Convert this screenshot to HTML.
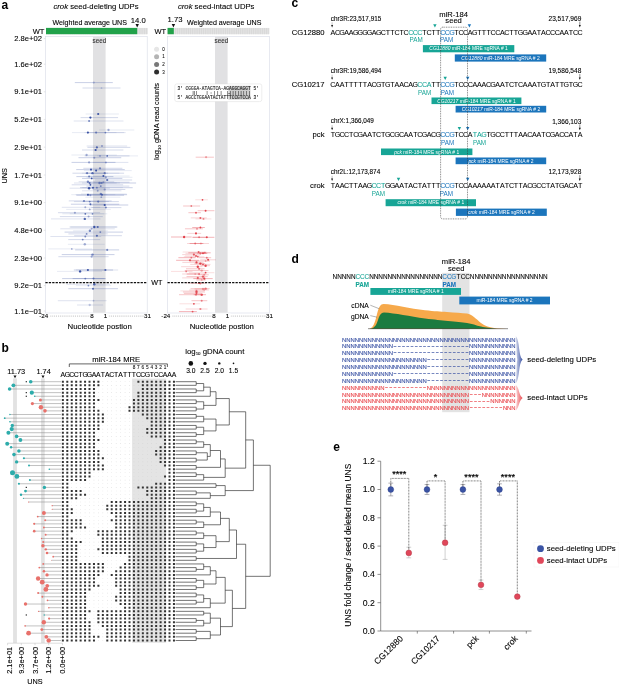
<!DOCTYPE html>
<html lang="en"><head><meta charset="utf-8"><title>Figure</title>
<style>
html,body{margin:0;padding:0;background:#fff;}
body{width:619px;height:685px;overflow:hidden;}
svg{display:block;font-family:"Liberation Sans",sans-serif;}
</style></head><body>
<svg width="619" height="685" viewBox="0 0 619 685">
<rect width="619" height="685" fill="#fff"/>
<g id="panel-a">
<text x="1.5" y="8.6" font-size="12" text-anchor="start" fill="#000" stroke="#000" stroke-width="0" font-weight="bold">a</text>
<text x="96" y="9" font-size="7.7" text-anchor="middle" fill="#000" stroke="#000" stroke-width="0.1" ><tspan font-style="italic">crok</tspan> seed-deleting UDPs</text>
<text x="216.2" y="9" font-size="7.7" text-anchor="middle" fill="#000" stroke="#000" stroke-width="0.1" ><tspan font-style="italic">crok</tspan> seed-intact UDPs</text>
<text x="52.5" y="24.5" font-size="7.1" text-anchor="start" fill="#000" stroke="#000" stroke-width="0.1" >Weighted average UNS</text>
<text x="187" y="24.5" font-size="7.1" text-anchor="start" fill="#000" stroke="#000" stroke-width="0.1" >Weighted average UNS</text>
<text x="138.2" y="22.6" font-size="7.7" text-anchor="middle" fill="#000" stroke="#000" stroke-width="0.1" >14.0</text>
<text x="175" y="22.2" font-size="7.7" text-anchor="middle" fill="#000" stroke="#000" stroke-width="0.1" >1.73</text>
<path d="M135.5,24H138.9L137.2,27.4Z" fill="#111"/>
<path d="M171.7,24H175.1L173.4,27.4Z" fill="#111"/>
<text x="44.4" y="34.2" font-size="7.5" text-anchor="end" fill="#000" stroke="#000" stroke-width="0.1" >WT</text>
<text x="166.2" y="34.2" font-size="7.5" text-anchor="end" fill="#000" stroke="#000" stroke-width="0.1" >WT</text>
<rect x="46" y="27.9" width="101.8" height="6.3" fill="#e9e9e9"/>
<line x1="46" y1="31.05" x2="147.8" y2="31.05" stroke="#d9d9d9" stroke-width="6.3" stroke-dasharray="1.3,0.55"/>
<rect x="46" y="27.9" width="91.2" height="6.3" fill="#22a24a"/>
<rect x="167.6" y="27.9" width="101.8" height="6.3" fill="#e9e9e9"/>
<line x1="167.6" y1="31.05" x2="269.4" y2="31.05" stroke="#d9d9d9" stroke-width="6.3" stroke-dasharray="1.3,0.55"/>
<rect x="167.6" y="27.9" width="6.2" height="6.3" fill="#22a24a"/>
<rect x="45.4" y="36.3" width="101.8" height="276.7" fill="#fff" stroke="#d8dbe6" stroke-width="0.6"/>
<rect x="93.0" y="36.6" width="12.6" height="276.1" fill="#e1e1e3"/>
<text x="99.4" y="42.7" font-size="6.3" text-anchor="middle" fill="#333" stroke="#333" stroke-width="0.1" >seed</text>
<rect x="167.5" y="36.3" width="101.8" height="276.7" fill="#fff" stroke="#d8dbe6" stroke-width="0.6"/>
<rect x="215.0" y="36.6" width="12.6" height="276.1" fill="#e1e1e3"/>
<text x="221.4" y="42.7" font-size="6.3" text-anchor="middle" fill="#333" stroke="#333" stroke-width="0.1" >seed</text>
<text x="41.9" y="41.25" font-size="7.6" text-anchor="end" fill="#000" stroke="#000" stroke-width="0.1" >2.8e+02</text>
<text x="41.9" y="66.85" font-size="7.6" text-anchor="end" fill="#000" stroke="#000" stroke-width="0.1" >1.6e+02</text>
<text x="41.9" y="94.45" font-size="7.6" text-anchor="end" fill="#000" stroke="#000" stroke-width="0.1" >9.1e+01</text>
<text x="41.9" y="122.05" font-size="7.6" text-anchor="end" fill="#000" stroke="#000" stroke-width="0.1" >5.2e+01</text>
<text x="41.9" y="149.85" font-size="7.6" text-anchor="end" fill="#000" stroke="#000" stroke-width="0.1" >2.9e+01</text>
<text x="41.9" y="177.65" font-size="7.6" text-anchor="end" fill="#000" stroke="#000" stroke-width="0.1" >1.7e+01</text>
<text x="41.9" y="205.25" font-size="7.6" text-anchor="end" fill="#000" stroke="#000" stroke-width="0.1" >9.1e+00</text>
<text x="41.9" y="232.95" font-size="7.6" text-anchor="end" fill="#000" stroke="#000" stroke-width="0.1" >4.8e+00</text>
<text x="41.9" y="260.65" font-size="7.6" text-anchor="end" fill="#000" stroke="#000" stroke-width="0.1" >2.3e+00</text>
<text x="41.9" y="288.25" font-size="7.6" text-anchor="end" fill="#000" stroke="#000" stroke-width="0.1" >9.2e−01</text>
<text x="41.9" y="313.65" font-size="7.6" text-anchor="end" fill="#000" stroke="#000" stroke-width="0.1" >1.1e−01</text>
<path d="M43.8,38.6h1.6M43.8,64.2h1.6M43.8,91.8h1.6M43.8,119.4h1.6M43.8,147.2h1.6M43.8,175h1.6M43.8,202.6h1.6M43.8,230.3h1.6M43.8,258h1.6M43.8,285.6h1.6M43.8,311h1.6" stroke="#ccc" stroke-width="0.5" fill="none"/>
<text transform="translate(6.9,175.8) rotate(-90)" font-size="7.3" text-anchor="middle" fill="#000" stroke="#000" stroke-width="0.1">UNS</text>
<line x1="50.4" y1="316.1" x2="144.4" y2="316.1" stroke="#a8a8a8" stroke-width="0.8" stroke-dasharray="0.9,1.0"/>
<rect x="89.6" y="313.4" width="19" height="5.2" fill="#fff"/>
<text x="48.2" y="318.2" font-size="6.2" text-anchor="end" fill="#000" stroke="#000" stroke-width="0.1" >-24</text>
<text x="92" y="318.2" font-size="6.2" text-anchor="middle" fill="#000" stroke="#000" stroke-width="0.1" >8</text>
<text x="105.4" y="318.2" font-size="6.2" text-anchor="middle" fill="#000" stroke="#000" stroke-width="0.1" >1</text>
<text x="144" y="318.2" font-size="6.2" text-anchor="start" fill="#000" stroke="#000" stroke-width="0.1" >31</text>
<text x="99.7" y="328.5" font-size="7.8" text-anchor="middle" fill="#000" stroke="#000" stroke-width="0.1" >Nucleotide postion</text>
<line x1="172.5" y1="316.1" x2="266.5" y2="316.1" stroke="#a8a8a8" stroke-width="0.8" stroke-dasharray="0.9,1.0"/>
<rect x="211.7" y="313.4" width="19" height="5.2" fill="#fff"/>
<text x="170.3" y="318.2" font-size="6.2" text-anchor="end" fill="#000" stroke="#000" stroke-width="0.1" >-24</text>
<text x="214.1" y="318.2" font-size="6.2" text-anchor="middle" fill="#000" stroke="#000" stroke-width="0.1" >8</text>
<text x="227.5" y="318.2" font-size="6.2" text-anchor="middle" fill="#000" stroke="#000" stroke-width="0.1" >1</text>
<text x="266.1" y="318.2" font-size="6.2" text-anchor="start" fill="#000" stroke="#000" stroke-width="0.1" >31</text>
<text x="221.8" y="328.5" font-size="7.8" text-anchor="middle" fill="#000" stroke="#000" stroke-width="0.1" >Nucleotide postion</text>
<g stroke="#3b53a4" stroke-width="0.55" fill="#3b53a4">
<line x1="85.64" y1="114" x2="118.92" y2="114" stroke-opacity="0.22"/>
<line x1="80.6" y1="117.6" x2="118.05" y2="117.6" stroke-opacity="0.4"/>
<line x1="73.69" y1="121" x2="123.47" y2="121" stroke-opacity="0.3"/>
<line x1="99.09" y1="130" x2="134.31" y2="130" stroke-opacity="0.22"/>
<line x1="84.45" y1="132.6" x2="124.02" y2="132.6" stroke-opacity="0.22"/>
<line x1="87.3" y1="132.6" x2="125.63" y2="132.6" stroke-opacity="0.3"/>
<line x1="71.96" y1="132.6" x2="116.39" y2="132.6" stroke-opacity="0.22"/>
<line x1="86.65" y1="146" x2="127.14" y2="146" stroke-opacity="0.3"/>
<line x1="87.39" y1="147.4" x2="130.35" y2="147.4" stroke-opacity="0.4"/>
<line x1="81.99" y1="150" x2="123.33" y2="150" stroke-opacity="0.4"/>
<line x1="71.44" y1="155" x2="116.88" y2="155" stroke-opacity="0.22"/>
<line x1="84.6" y1="155.9" x2="129.5" y2="155.9" stroke-opacity="0.4"/>
<line x1="97.13" y1="155.9" x2="138.02" y2="155.9" stroke-opacity="0.22"/>
<line x1="78.49" y1="157.7" x2="121.24" y2="157.7" stroke-opacity="0.5"/>
<line x1="71.55" y1="162.4" x2="115.48" y2="162.4" stroke-opacity="0.5"/>
<line x1="92.92" y1="162.4" x2="128.37" y2="162.4" stroke-opacity="0.3"/>
<line x1="83.31" y1="168.3" x2="122.39" y2="168.3" stroke-opacity="0.4"/>
<line x1="76.22" y1="169.6" x2="124.75" y2="169.6" stroke-opacity="0.5"/>
<line x1="83.93" y1="170.6" x2="131.74" y2="170.6" stroke-opacity="0.22"/>
<line x1="72.47" y1="173.2" x2="108.07" y2="173.2" stroke-opacity="0.4"/>
<line x1="81.83" y1="173.2" x2="119.3" y2="173.2" stroke-opacity="0.22"/>
<line x1="85.12" y1="173.2" x2="124.1" y2="173.2" stroke-opacity="0.4"/>
<line x1="76.36" y1="176.6" x2="113.4" y2="176.6" stroke-opacity="0.5"/>
<line x1="88.02" y1="176" x2="129.61" y2="176" stroke-opacity="0.22"/>
<line x1="86.51" y1="177.3" x2="132.43" y2="177.3" stroke-opacity="0.22"/>
<line x1="82.03" y1="178.4" x2="122.33" y2="178.4" stroke-opacity="0.5"/>
<line x1="95.07" y1="180" x2="132.14" y2="180" stroke-opacity="0.4"/>
<line x1="78.65" y1="181.7" x2="114.21" y2="181.7" stroke-opacity="0.3"/>
<line x1="73.98" y1="183" x2="116.59" y2="183" stroke-opacity="0.3"/>
<line x1="82.05" y1="183" x2="119.83" y2="183" stroke-opacity="0.3"/>
<line x1="88.22" y1="183" x2="136.1" y2="183" stroke-opacity="0.5"/>
<line x1="93.51" y1="182.2" x2="129.49" y2="182.2" stroke-opacity="0.4"/>
<line x1="71.68" y1="184.8" x2="123.15" y2="184.8" stroke-opacity="0.4"/>
<line x1="80.13" y1="187.7" x2="132.66" y2="187.7" stroke-opacity="0.5"/>
<line x1="69.56" y1="188.2" x2="109.82" y2="188.2" stroke-opacity="0.3"/>
<line x1="82.34" y1="187.7" x2="122.85" y2="187.7" stroke-opacity="0.22"/>
<line x1="86.47" y1="186.1" x2="129.4" y2="186.1" stroke-opacity="0.4"/>
<line x1="92.6" y1="189.5" x2="125.32" y2="189.5" stroke-opacity="0.4"/>
<line x1="81.99" y1="190.8" x2="121.44" y2="190.8" stroke-opacity="0.3"/>
<line x1="71.3" y1="194.7" x2="115.18" y2="194.7" stroke-opacity="0.22"/>
<line x1="76.38" y1="195.2" x2="124.08" y2="195.2" stroke-opacity="0.5"/>
<line x1="88.62" y1="194.7" x2="127.09" y2="194.7" stroke-opacity="0.5"/>
<line x1="85.32" y1="197.2" x2="120.42" y2="197.2" stroke-opacity="0.22"/>
<line x1="80.97" y1="193.9" x2="126.73" y2="193.9" stroke-opacity="0.22"/>
<line x1="75.66" y1="194.7" x2="107.35" y2="194.7" stroke-opacity="0.22"/>
<line x1="68.77" y1="200.9" x2="111.66" y2="200.9" stroke-opacity="0.4"/>
<line x1="73.95" y1="201.6" x2="108.97" y2="201.6" stroke-opacity="0.3"/>
<line x1="82.45" y1="201.6" x2="118.87" y2="201.6" stroke-opacity="0.4"/>
<line x1="70.89" y1="204.2" x2="119.24" y2="204.2" stroke-opacity="0.5"/>
<line x1="89.75" y1="205" x2="128.28" y2="205" stroke-opacity="0.5"/>
<line x1="61.77" y1="207.3" x2="100.29" y2="207.3" stroke-opacity="0.3"/>
<line x1="91.45" y1="207.6" x2="121.38" y2="207.6" stroke-opacity="0.4"/>
<line x1="66.21" y1="209.4" x2="110.77" y2="209.4" stroke-opacity="0.22"/>
<line x1="57.97" y1="212.7" x2="100.13" y2="212.7" stroke-opacity="0.4"/>
<line x1="69.78" y1="213.8" x2="103.99" y2="213.8" stroke-opacity="0.22"/>
<line x1="62.3" y1="213.8" x2="107.27" y2="213.8" stroke-opacity="0.22"/>
<line x1="59.89" y1="216.6" x2="102.78" y2="216.6" stroke-opacity="0.4"/>
<line x1="51" y1="218.9" x2="100.49" y2="218.9" stroke-opacity="0.3"/>
<line x1="69.52" y1="227" x2="116.76" y2="227" stroke-opacity="0.4"/>
<line x1="70.43" y1="227" x2="117.51" y2="227" stroke-opacity="0.3"/>
<line x1="60.35" y1="228.8" x2="114.79" y2="228.8" stroke-opacity="0.3"/>
<line x1="73.1" y1="230.8" x2="107.78" y2="230.8" stroke-opacity="0.22"/>
<line x1="64.55" y1="232.1" x2="122.94" y2="232.1" stroke-opacity="0.5"/>
<line x1="68.38" y1="233.9" x2="107.68" y2="233.9" stroke-opacity="0.4"/>
<line x1="74.17" y1="235.7" x2="121.89" y2="235.7" stroke-opacity="0.4"/>
<line x1="50.38" y1="236.5" x2="101.13" y2="236.5" stroke-opacity="0.3"/>
<line x1="68.25" y1="239.6" x2="100.22" y2="239.6" stroke-opacity="0.4"/>
<line x1="67.9" y1="244.3" x2="104.79" y2="244.3" stroke-opacity="0.22"/>
<line x1="48.29" y1="248.9" x2="92.25" y2="248.9" stroke-opacity="0.22"/>
<line x1="75.17" y1="249.9" x2="119.12" y2="249.9" stroke-opacity="0.5"/>
<line x1="61.72" y1="254.6" x2="114.5" y2="254.6" stroke-opacity="0.5"/>
<line x1="58.36" y1="256.7" x2="108.64" y2="256.7" stroke-opacity="0.4"/>
<line x1="73.82" y1="270" x2="113.04" y2="270" stroke-opacity="0.5"/>
<line x1="56.98" y1="271.4" x2="101.99" y2="271.4" stroke-opacity="0.22"/>
<line x1="76" y1="270" x2="118.12" y2="270" stroke-opacity="0.3"/>
<line x1="72.64" y1="278.6" x2="104.75" y2="278.6" stroke-opacity="0.5"/>
<line x1="62.14" y1="278.6" x2="105.84" y2="278.6" stroke-opacity="0.5"/>
<line x1="66.53" y1="284.3" x2="109.91" y2="284.3" stroke-opacity="0.3"/>
<line x1="75.89" y1="285.6" x2="111.19" y2="285.6" stroke-opacity="0.22"/>
<line x1="68.36" y1="288.7" x2="117.94" y2="288.7" stroke-opacity="0.5"/>
<line x1="57.82" y1="300.7" x2="106.62" y2="300.7" stroke-opacity="0.3"/>
<line x1="77.03" y1="305" x2="103.1" y2="305" stroke-opacity="0.3"/>
<line x1="74.8" y1="82.6" x2="112.8" y2="82.6" stroke-opacity="0.5"/>
<line x1="82.5" y1="88" x2="120.5" y2="88" stroke-opacity="0.4"/>
<circle cx="98.2" cy="114" r="1.08" stroke="none" fill-opacity="1"/>
<circle cx="90.4" cy="117.6" r="1.14" stroke="none" fill-opacity="1"/>
<circle cx="89.1" cy="121" r="1.04" stroke="none" fill-opacity="0.65"/>
<circle cx="108.5" cy="130" r="1.16" stroke="none" fill-opacity="0.45"/>
<circle cx="96.1" cy="132.6" r="1.06" stroke="none" fill-opacity="0.65"/>
<circle cx="105.4" cy="132.6" r="0.91" stroke="none" fill-opacity="0.65"/>
<circle cx="87.9" cy="132.6" r="1.07" stroke="none" fill-opacity="1"/>
<circle cx="102" cy="146" r="1.04" stroke="none" fill-opacity="0.45"/>
<circle cx="96.9" cy="147.4" r="1.09" stroke="none" fill-opacity="0.85"/>
<circle cx="95.6" cy="150" r="1.12" stroke="none" fill-opacity="1"/>
<circle cx="86.6" cy="155" r="1.16" stroke="none" fill-opacity="0.45"/>
<circle cx="100" cy="155.9" r="0.94" stroke="none" fill-opacity="0.45"/>
<circle cx="107.2" cy="155.9" r="0.86" stroke="none" fill-opacity="0.85"/>
<circle cx="94.3" cy="157.7" r="1.03" stroke="none" fill-opacity="0.45"/>
<circle cx="89.1" cy="162.4" r="1.12" stroke="none" fill-opacity="0.45"/>
<circle cx="105.9" cy="162.4" r="1.01" stroke="none" fill-opacity="0.45"/>
<circle cx="100" cy="168.3" r="1.09" stroke="none" fill-opacity="0.65"/>
<circle cx="91" cy="169.6" r="1.03" stroke="none" fill-opacity="1"/>
<circle cx="96.1" cy="170.6" r="1.03" stroke="none" fill-opacity="1"/>
<circle cx="87.1" cy="173.2" r="1.09" stroke="none" fill-opacity="0.65"/>
<circle cx="92.5" cy="173.2" r="1.17" stroke="none" fill-opacity="0.85"/>
<circle cx="104.7" cy="173.2" r="1.14" stroke="none" fill-opacity="0.65"/>
<circle cx="89.1" cy="176.6" r="1" stroke="none" fill-opacity="0.65"/>
<circle cx="103.4" cy="176" r="1" stroke="none" fill-opacity="1"/>
<circle cx="105.9" cy="177.3" r="1.08" stroke="none" fill-opacity="0.45"/>
<circle cx="91.7" cy="178.4" r="0.88" stroke="none" fill-opacity="1"/>
<circle cx="107.2" cy="180" r="1.12" stroke="none" fill-opacity="0.85"/>
<circle cx="87.9" cy="181.7" r="1.18" stroke="none" fill-opacity="0.65"/>
<circle cx="89.7" cy="183" r="0.9" stroke="none" fill-opacity="0.85"/>
<circle cx="99.5" cy="183" r="1.19" stroke="none" fill-opacity="0.65"/>
<circle cx="101.6" cy="183" r="1.11" stroke="none" fill-opacity="0.65"/>
<circle cx="103.4" cy="182.2" r="0.99" stroke="none" fill-opacity="0.45"/>
<circle cx="90.4" cy="184.8" r="0.91" stroke="none" fill-opacity="1"/>
<circle cx="96.9" cy="187.7" r="0.91" stroke="none" fill-opacity="0.65"/>
<circle cx="89.1" cy="188.2" r="1.2" stroke="none" fill-opacity="1"/>
<circle cx="93" cy="187.7" r="0.97" stroke="none" fill-opacity="1"/>
<circle cx="100.8" cy="186.1" r="0.97" stroke="none" fill-opacity="0.65"/>
<circle cx="104.7" cy="189.5" r="1.1" stroke="none" fill-opacity="0.45"/>
<circle cx="97.7" cy="190.8" r="0.97" stroke="none" fill-opacity="0.45"/>
<circle cx="87.9" cy="194.7" r="1" stroke="none" fill-opacity="1"/>
<circle cx="90.4" cy="195.2" r="0.98" stroke="none" fill-opacity="0.45"/>
<circle cx="102" cy="194.7" r="1.03" stroke="none" fill-opacity="0.85"/>
<circle cx="101.3" cy="197.2" r="0.89" stroke="none" fill-opacity="0.45"/>
<circle cx="100.8" cy="193.9" r="1.19" stroke="none" fill-opacity="0.65"/>
<circle cx="88.4" cy="194.7" r="0.88" stroke="none" fill-opacity="0.45"/>
<circle cx="84" cy="200.9" r="0.86" stroke="none" fill-opacity="0.85"/>
<circle cx="89.7" cy="201.6" r="0.94" stroke="none" fill-opacity="0.65"/>
<circle cx="98.2" cy="201.6" r="1.14" stroke="none" fill-opacity="0.65"/>
<circle cx="90.4" cy="204.2" r="0.99" stroke="none" fill-opacity="0.85"/>
<circle cx="104.7" cy="205" r="1.1" stroke="none" fill-opacity="1"/>
<circle cx="85.3" cy="207.3" r="0.95" stroke="none" fill-opacity="0.45"/>
<circle cx="105.9" cy="207.6" r="1" stroke="none" fill-opacity="0.65"/>
<circle cx="89.7" cy="209.4" r="0.94" stroke="none" fill-opacity="0.45"/>
<circle cx="74.9" cy="212.7" r="1.07" stroke="none" fill-opacity="0.45"/>
<circle cx="85.3" cy="213.8" r="0.88" stroke="none" fill-opacity="0.85"/>
<circle cx="92.5" cy="213.8" r="0.87" stroke="none" fill-opacity="0.65"/>
<circle cx="88.6" cy="216.6" r="1.01" stroke="none" fill-opacity="0.45"/>
<circle cx="84.8" cy="218.9" r="1.2" stroke="none" fill-opacity="0.85"/>
<circle cx="94.3" cy="227" r="1.17" stroke="none" fill-opacity="1"/>
<circle cx="97.7" cy="227" r="1.07" stroke="none" fill-opacity="0.85"/>
<circle cx="91.7" cy="228.8" r="1.03" stroke="none" fill-opacity="0.45"/>
<circle cx="89.9" cy="230.8" r="1.18" stroke="none" fill-opacity="0.65"/>
<circle cx="100.3" cy="232.1" r="0.94" stroke="none" fill-opacity="0.65"/>
<circle cx="86.6" cy="233.9" r="0.92" stroke="none" fill-opacity="0.65"/>
<circle cx="96.9" cy="235.7" r="1.07" stroke="none" fill-opacity="0.85"/>
<circle cx="85.3" cy="236.5" r="0.95" stroke="none" fill-opacity="0.65"/>
<circle cx="82.7" cy="239.6" r="0.94" stroke="none" fill-opacity="0.65"/>
<circle cx="84.8" cy="244.3" r="1.2" stroke="none" fill-opacity="0.45"/>
<circle cx="71.8" cy="248.9" r="0.86" stroke="none" fill-opacity="0.45"/>
<circle cx="107.2" cy="249.9" r="1.03" stroke="none" fill-opacity="0.65"/>
<circle cx="92.5" cy="254.6" r="1.18" stroke="none" fill-opacity="0.65"/>
<circle cx="91.7" cy="256.7" r="1.08" stroke="none" fill-opacity="0.45"/>
<circle cx="87.9" cy="270" r="1.08" stroke="none" fill-opacity="1"/>
<circle cx="80.1" cy="271.4" r="1.19" stroke="none" fill-opacity="1"/>
<circle cx="105.4" cy="270" r="1.09" stroke="none" fill-opacity="0.85"/>
<circle cx="85.3" cy="278.6" r="0.97" stroke="none" fill-opacity="0.65"/>
<circle cx="93.5" cy="278.6" r="0.99" stroke="none" fill-opacity="0.65"/>
<circle cx="94.3" cy="284.3" r="1.19" stroke="none" fill-opacity="0.85"/>
<circle cx="88.4" cy="285.6" r="0.85" stroke="none" fill-opacity="0.65"/>
<circle cx="93" cy="288.7" r="1" stroke="none" fill-opacity="0.85"/>
<circle cx="93.5" cy="300.7" r="0.88" stroke="none" fill-opacity="0.3"/>
<circle cx="89.7" cy="305" r="1.15" stroke="none" fill-opacity="0.3"/>
<circle cx="93.8" cy="82.6" r="1.06" stroke="none" fill-opacity="0.3"/>
<circle cx="101.5" cy="88" r="0.87" stroke="none" fill-opacity="0.3"/>
</g>
<g stroke="#e03b44" stroke-width="0.55" fill="#e03b44">
<line x1="195.28" y1="199.8" x2="207.85" y2="199.8" stroke-opacity="0.3"/>
<line x1="183.14" y1="206" x2="200.11" y2="206" stroke-opacity="0.55"/>
<line x1="197.67" y1="210.7" x2="214.43" y2="210.7" stroke-opacity="0.55"/>
<line x1="188.39" y1="212.7" x2="200.91" y2="212.7" stroke-opacity="0.55"/>
<line x1="190.82" y1="217.9" x2="206.77" y2="217.9" stroke-opacity="0.4"/>
<line x1="195.52" y1="218.9" x2="211.38" y2="218.9" stroke-opacity="0.3"/>
<line x1="192.23" y1="227.5" x2="204.85" y2="227.5" stroke-opacity="0.7"/>
<line x1="184.96" y1="228.8" x2="202.97" y2="228.8" stroke-opacity="0.55"/>
<line x1="187.35" y1="233.4" x2="201.16" y2="233.4" stroke-opacity="0.4"/>
<line x1="171" y1="237" x2="191.68" y2="237" stroke-opacity="0.7"/>
<line x1="192.63" y1="237.3" x2="214.4" y2="237.3" stroke-opacity="0.7"/>
<line x1="192.31" y1="237.3" x2="206.72" y2="237.3" stroke-opacity="0.4"/>
<line x1="189.67" y1="243.5" x2="203.38" y2="243.5" stroke-opacity="0.7"/>
<line x1="187.09" y1="243.5" x2="208.96" y2="243.5" stroke-opacity="0.4"/>
<line x1="182.68" y1="252" x2="206.36" y2="252" stroke-opacity="0.3"/>
<line x1="185.48" y1="253.3" x2="207.32" y2="253.3" stroke-opacity="0.4"/>
<line x1="196.98" y1="253.3" x2="207.21" y2="253.3" stroke-opacity="0.55"/>
<line x1="188.29" y1="252.8" x2="210.68" y2="252.8" stroke-opacity="0.7"/>
<line x1="182.2" y1="254.6" x2="201.04" y2="254.6" stroke-opacity="0.4"/>
<line x1="185.13" y1="255.9" x2="200.02" y2="255.9" stroke-opacity="0.3"/>
<line x1="183.82" y1="256.7" x2="204.31" y2="256.7" stroke-opacity="0.3"/>
<line x1="178.39" y1="257.7" x2="195.63" y2="257.7" stroke-opacity="0.7"/>
<line x1="198.77" y1="257.7" x2="211.17" y2="257.7" stroke-opacity="0.55"/>
<line x1="200.28" y1="259.8" x2="215.88" y2="259.8" stroke-opacity="0.4"/>
<line x1="176.12" y1="260.3" x2="198.88" y2="260.3" stroke-opacity="0.7"/>
<line x1="190.45" y1="261" x2="209.98" y2="261" stroke-opacity="0.55"/>
<line x1="182.3" y1="262.4" x2="203.58" y2="262.4" stroke-opacity="0.4"/>
<line x1="194.47" y1="263.6" x2="205.14" y2="263.6" stroke-opacity="0.55"/>
<line x1="190.18" y1="264.4" x2="210.46" y2="264.4" stroke-opacity="0.4"/>
<line x1="200.45" y1="265.7" x2="209.9" y2="265.7" stroke-opacity="0.55"/>
<line x1="181.13" y1="266.7" x2="202.3" y2="266.7" stroke-opacity="0.4"/>
<line x1="185.99" y1="268.8" x2="204.55" y2="268.8" stroke-opacity="0.55"/>
<line x1="171" y1="271.4" x2="192.53" y2="271.4" stroke-opacity="0.3"/>
<line x1="184.78" y1="270.6" x2="208.45" y2="270.6" stroke-opacity="0.55"/>
<line x1="188.86" y1="272.7" x2="214.28" y2="272.7" stroke-opacity="0.3"/>
<line x1="186.72" y1="274" x2="199.58" y2="274" stroke-opacity="0.7"/>
<line x1="182.17" y1="274" x2="205.03" y2="274" stroke-opacity="0.4"/>
<line x1="198.4" y1="274.8" x2="208.75" y2="274.8" stroke-opacity="0.55"/>
<line x1="186.57" y1="276.6" x2="207.66" y2="276.6" stroke-opacity="0.55"/>
<line x1="182.16" y1="277.9" x2="205.32" y2="277.9" stroke-opacity="0.4"/>
<line x1="193.33" y1="278.6" x2="212.68" y2="278.6" stroke-opacity="0.7"/>
<line x1="196.4" y1="279.9" x2="205.72" y2="279.9" stroke-opacity="0.7"/>
<line x1="185.92" y1="283" x2="205.13" y2="283" stroke-opacity="0.4"/>
<line x1="190.41" y1="283.5" x2="206.28" y2="283.5" stroke-opacity="0.3"/>
<line x1="190.52" y1="288.7" x2="209.61" y2="288.7" stroke-opacity="0.55"/>
<line x1="189.23" y1="290" x2="208.9" y2="290" stroke-opacity="0.4"/>
<line x1="182.94" y1="292" x2="205.01" y2="292" stroke-opacity="0.55"/>
<line x1="193.66" y1="294.7" x2="206.02" y2="294.7" stroke-opacity="0.7"/>
<line x1="179.01" y1="294.7" x2="202.95" y2="294.7" stroke-opacity="0.55"/>
<line x1="180.4" y1="290.9" x2="204.28" y2="290.9" stroke-opacity="0.3"/>
<line x1="194.63" y1="289" x2="207.26" y2="289" stroke-opacity="0.55"/>
<line x1="183.88" y1="293.4" x2="201.24" y2="293.4" stroke-opacity="0.55"/>
<line x1="191.47" y1="300.7" x2="207.28" y2="300.7" stroke-opacity="0.55"/>
<line x1="179.48" y1="303.8" x2="200.04" y2="303.8" stroke-opacity="0.3"/>
<line x1="185.66" y1="309" x2="207.55" y2="309" stroke-opacity="0.4"/>
<line x1="178.97" y1="311.6" x2="196.85" y2="311.6" stroke-opacity="0.7"/>
<line x1="195.69" y1="157.2" x2="213.86" y2="157.2" stroke-opacity="0.55"/>
<circle cx="202.5" cy="199.8" r="0.87" stroke="none" fill-opacity="0.95"/>
<circle cx="191.3" cy="206" r="0.91" stroke="none" fill-opacity="0.6"/>
<circle cx="205.6" cy="210.7" r="0.97" stroke="none" fill-opacity="0.95"/>
<circle cx="196" cy="212.7" r="0.94" stroke="none" fill-opacity="0.8"/>
<circle cx="200.4" cy="217.9" r="0.99" stroke="none" fill-opacity="0.8"/>
<circle cx="203.5" cy="218.9" r="0.96" stroke="none" fill-opacity="0.6"/>
<circle cx="200.4" cy="227.5" r="0.89" stroke="none" fill-opacity="0.95"/>
<circle cx="197" cy="228.8" r="0.88" stroke="none" fill-opacity="0.6"/>
<circle cx="196" cy="233.4" r="1.04" stroke="none" fill-opacity="0.95"/>
<circle cx="184.1" cy="237" r="1.17" stroke="none" fill-opacity="0.95"/>
<circle cx="206.8" cy="237.3" r="1" stroke="none" fill-opacity="0.95"/>
<circle cx="199.1" cy="237.3" r="0.94" stroke="none" fill-opacity="0.6"/>
<circle cx="195.2" cy="243.5" r="0.97" stroke="none" fill-opacity="0.6"/>
<circle cx="200.9" cy="243.5" r="0.96" stroke="none" fill-opacity="0.4"/>
<circle cx="198.6" cy="252" r="0.94" stroke="none" fill-opacity="0.8"/>
<circle cx="200.4" cy="253.3" r="1.16" stroke="none" fill-opacity="0.6"/>
<circle cx="203" cy="253.3" r="0.98" stroke="none" fill-opacity="0.95"/>
<circle cx="204.8" cy="252.8" r="0.98" stroke="none" fill-opacity="0.6"/>
<circle cx="193.9" cy="254.6" r="1.11" stroke="none" fill-opacity="0.8"/>
<circle cx="196" cy="255.9" r="0.95" stroke="none" fill-opacity="0.95"/>
<circle cx="197.8" cy="256.7" r="0.89" stroke="none" fill-opacity="0.8"/>
<circle cx="191.3" cy="257.7" r="0.88" stroke="none" fill-opacity="0.6"/>
<circle cx="206.8" cy="257.7" r="0.98" stroke="none" fill-opacity="0.6"/>
<circle cx="208.1" cy="259.8" r="1" stroke="none" fill-opacity="0.95"/>
<circle cx="190" cy="260.3" r="1.15" stroke="none" fill-opacity="0.8"/>
<circle cx="205.6" cy="261" r="0.89" stroke="none" fill-opacity="0.4"/>
<circle cx="196.5" cy="262.4" r="1.1" stroke="none" fill-opacity="0.95"/>
<circle cx="200.4" cy="263.6" r="1.19" stroke="none" fill-opacity="0.95"/>
<circle cx="203" cy="264.4" r="0.85" stroke="none" fill-opacity="0.95"/>
<circle cx="205.6" cy="265.7" r="1.18" stroke="none" fill-opacity="0.95"/>
<circle cx="197.8" cy="266.7" r="1.19" stroke="none" fill-opacity="0.95"/>
<circle cx="199.1" cy="268.8" r="1.12" stroke="none" fill-opacity="0.6"/>
<circle cx="186.2" cy="271.4" r="0.9" stroke="none" fill-opacity="0.6"/>
<circle cx="201.7" cy="270.6" r="1.18" stroke="none" fill-opacity="0.4"/>
<circle cx="205.6" cy="272.7" r="0.88" stroke="none" fill-opacity="0.95"/>
<circle cx="195.2" cy="274" r="0.85" stroke="none" fill-opacity="0.4"/>
<circle cx="199.1" cy="274" r="0.93" stroke="none" fill-opacity="0.6"/>
<circle cx="204.3" cy="274.8" r="1.08" stroke="none" fill-opacity="0.4"/>
<circle cx="203" cy="276.6" r="1.19" stroke="none" fill-opacity="0.8"/>
<circle cx="197.8" cy="277.9" r="1.03" stroke="none" fill-opacity="0.8"/>
<circle cx="204.3" cy="278.6" r="1.09" stroke="none" fill-opacity="0.95"/>
<circle cx="201.7" cy="279.9" r="0.88" stroke="none" fill-opacity="0.4"/>
<circle cx="199.1" cy="283" r="1.03" stroke="none" fill-opacity="0.8"/>
<circle cx="200.4" cy="283.5" r="0.99" stroke="none" fill-opacity="0.6"/>
<circle cx="205.6" cy="288.7" r="1.13" stroke="none" fill-opacity="0.6"/>
<circle cx="204.3" cy="290" r="0.85" stroke="none" fill-opacity="0.4"/>
<circle cx="196.5" cy="292" r="1.2" stroke="none" fill-opacity="0.8"/>
<circle cx="201.7" cy="294.7" r="1.19" stroke="none" fill-opacity="0.8"/>
<circle cx="196" cy="294.7" r="1.02" stroke="none" fill-opacity="0.6"/>
<circle cx="196.5" cy="290.9" r="1.04" stroke="none" fill-opacity="0.6"/>
<circle cx="203" cy="289" r="1.19" stroke="none" fill-opacity="0.4"/>
<circle cx="196.5" cy="293.4" r="0.87" stroke="none" fill-opacity="0.8"/>
<circle cx="201.7" cy="300.7" r="1.02" stroke="none" fill-opacity="0.6"/>
<circle cx="193.9" cy="303.8" r="0.88" stroke="none" fill-opacity="0.95"/>
<circle cx="200.4" cy="309" r="1.08" stroke="none" fill-opacity="0.6"/>
<circle cx="192.6" cy="311.6" r="0.93" stroke="none" fill-opacity="0.8"/>
<circle cx="206.1" cy="157.2" r="1.09" stroke="none" fill-opacity="0.4"/>
</g>
<line x1="45.4" y1="282.6" x2="147.2" y2="282.6" stroke="#111" stroke-width="1.3" stroke-dasharray="2.3,1.1"/>
<line x1="167.5" y1="282.6" x2="269.3" y2="282.6" stroke="#111" stroke-width="1.3" stroke-dasharray="2.3,1.1"/>
<text x="151.2" y="285.1" font-size="7.2" text-anchor="start" fill="#000" stroke="#000" stroke-width="0.1" >WT</text>
<circle cx="156.6" cy="49.2" r="2.5" fill="#e6e6e6"/>
<text x="162.3" y="50.75" font-size="4.5" text-anchor="start" fill="#000" stroke="#000" stroke-width="0.05" >0</text>
<circle cx="156.6" cy="56.7" r="2.5" fill="#b4b4b4"/>
<text x="162.3" y="58.25" font-size="4.5" text-anchor="start" fill="#000" stroke="#000" stroke-width="0.05" >1</text>
<circle cx="156.6" cy="64.5" r="2.5" fill="#787878"/>
<text x="162.3" y="66.05" font-size="4.5" text-anchor="start" fill="#000" stroke="#000" stroke-width="0.05" >2</text>
<circle cx="156.6" cy="72" r="2.5" fill="#2e2e2e"/>
<text x="162.3" y="73.55" font-size="4.5" text-anchor="start" fill="#000" stroke="#000" stroke-width="0.05" >3</text>
<text transform="translate(159.2,121.5) rotate(-90)" font-size="7.4" text-anchor="middle" fill="#000" stroke="#000" stroke-width="0.1">log<tspan font-size="4.4" dy="1.4">10</tspan><tspan dy="-1.4"> gDNA read counts</tspan></text>
<rect x="174.8" y="83.9" width="87" height="17.7" rx="2" fill="#fff" stroke="#dcdcdc" stroke-width="0.5"/>
<rect x="228.4" y="85.8" width="22" height="13.8" fill="#cdcdcd"/>
<text x="178.76 181.47 186.9 189.61 192.32 195.04 197.75 200.46 203.18 205.89 208.6 211.32 214.03 216.74 219.46 222.17 224.88 227.6 230.31 233.02 235.74 238.45 241.16 243.88 246.59 249.3 254.73 257.44" y="89.7" font-size="4.5" text-anchor="middle" fill="#222" stroke="#222" stroke-width="0.12" font-family="Liberation Mono, monospace">3'CGGGA-ATAGTCA-AGAGGCAGGT5'</text>
<text x="193 194.7 196.4 207 211.2 214.5 217.9 221.2 227.3 229 230.31 233.02 235.74 238.45 241.16 243.88 246.59 249.3" y="93.9" font-size="3.6" text-anchor="middle" fill="#222" stroke="#222" stroke-width="0.15" font-family="Liberation Mono, monospace">||||:||||-||||||||</text>
<text x="178.76 181.47 186.9 189.61 192.32 195.04 197.75 200.46 203.18 205.89 208.6 211.32 214.03 216.74 219.46 222.17 224.88 227.6 230.31 233.02 235.74 238.45 241.16 243.88 246.59 249.3 254.73 257.44" y="98.5" font-size="4.5" text-anchor="middle" fill="#222" stroke="#222" stroke-width="0.12" font-family="Liberation Mono, monospace">5'AGCCTGGAATACTATTTCCGTCCA3'</text>
</g>
<g id="panel-b">
<text x="1.5" y="351.8" font-size="12" text-anchor="start" fill="#000" stroke="#000" stroke-width="0" font-weight="bold">b</text>
<text x="116.2" y="361.8" font-size="7.65" text-anchor="middle" fill="#000" stroke="#000" stroke-width="0.1" >miR-184 MRE</text>
<path d="M69.3,367V363.9H167.4V367" fill="none" stroke="#222" stroke-width="0.7"/>
<text x="133.95" y="368.8" font-size="4.7" text-anchor="middle" fill="#222" stroke="#222" stroke-width="0.1" >8</text>
<text x="138.4" y="368.8" font-size="4.7" text-anchor="middle" fill="#222" stroke="#222" stroke-width="0.1" >7</text>
<text x="142.84" y="368.8" font-size="4.7" text-anchor="middle" fill="#222" stroke="#222" stroke-width="0.1" >6</text>
<text x="147.29" y="368.8" font-size="4.7" text-anchor="middle" fill="#222" stroke="#222" stroke-width="0.1" >5</text>
<text x="151.73" y="368.8" font-size="4.7" text-anchor="middle" fill="#222" stroke="#222" stroke-width="0.1" >4</text>
<text x="156.17" y="368.8" font-size="4.7" text-anchor="middle" fill="#222" stroke="#222" stroke-width="0.1" >3</text>
<text x="160.62" y="368.8" font-size="4.7" text-anchor="middle" fill="#222" stroke="#222" stroke-width="0.1" >2</text>
<text x="165.06" y="368.8" font-size="4.7" text-anchor="middle" fill="#222" stroke="#222" stroke-width="0.1" >1</text>
<text x="62.85 67.29 71.74 76.18 80.63 85.07 89.51 93.96 98.4 102.85 107.29 111.73 116.18 120.62 125.07 129.51 133.95 138.4 142.84 147.29 151.73 156.17 160.62 165.06 169.51 173.95" y="376.6" font-size="6.85" text-anchor="middle" fill="#000" stroke="#000" stroke-width="0.1">AGCCTGGAATACTATTTCCGTCCAAA</text>
<text x="214.8" y="354" font-size="7.8" text-anchor="middle" fill="#000" stroke="#000" stroke-width="0.1">log<tspan font-size="4.4" dy="1.4">10</tspan><tspan dy="-1.4"> gDNA count</tspan></text>
<circle cx="190.8" cy="363.4" r="2.3" fill="#111"/>
<text x="190.8" y="372.7" font-size="6.7" text-anchor="middle" fill="#000" stroke="#000" stroke-width="0.1" >3.0</text>
<circle cx="205" cy="363.4" r="1.7" fill="#111"/>
<text x="205" y="372.7" font-size="6.7" text-anchor="middle" fill="#000" stroke="#000" stroke-width="0.1" >2.5</text>
<circle cx="219.3" cy="363.4" r="1.2" fill="#111"/>
<text x="219.3" y="372.7" font-size="6.7" text-anchor="middle" fill="#000" stroke="#000" stroke-width="0.1" >2.0</text>
<circle cx="233.5" cy="363.4" r="0.8" fill="#111"/>
<text x="233.5" y="372.7" font-size="6.7" text-anchor="middle" fill="#000" stroke="#000" stroke-width="0.1" >1.5</text>
<rect x="13.1" y="378.4" width="3.8" height="264.6" fill="#e2e2e2"/>
<rect x="41.1" y="378.4" width="3.6" height="264.6" fill="#e2e2e2"/>
<rect x="132.1" y="378.6" width="34.1" height="264.2" fill="#e4e4e4"/>
<text x="16.2" y="373.8" font-size="7.4" text-anchor="middle" fill="#000" stroke="#000" stroke-width="0.1" >11.73</text>
<text x="43.6" y="373.8" font-size="7.4" text-anchor="middle" fill="#000" stroke="#000" stroke-width="0.1" >1.74</text>
<path d="M13.5,375.4H16.5L15,378.2Z" fill="#111"/>
<path d="M41.5,375.4H44.5L43,378.2Z" fill="#111"/>
<path d="M30.7,381.7H61M13.4,385.34H61M9.6,388.99H61M31.8,392.63H61M34.7,396.28H61M40.4,399.93H61M32.4,403.57H61M40.9,407.21H61M45,410.86H61M9.9,414.5H61M4.7,418.15H61M9.9,421.79H61M12.3,425.44H61M11.7,429.08H61M8.4,432.73H61M16.6,436.38H61M20.4,440.02H61M7.2,443.66H61M11.1,447.31H61M18.9,450.95H61M14,454.6H61M23.9,458.25H61M16.6,461.89H61M29,465.53H61M49.3,469.18H61M12.5,472.82H61M16.9,476.47H61M29.9,480.12H61M18.9,483.76H61M44.4,487.4H61M25.5,491.05H61M21,494.69H61M23.4,498.34H61M28.6,501.99H61M52.2,505.63H61M52.2,509.27H61M43.9,512.92H61M37.7,516.57H61M45.2,520.21H61M34.2,523.86H61M43.9,527.5H61M34.2,531.14H61M45.6,534.79H61M41.5,538.43H61M43.2,542.08H61M42.9,545.73H61M45.8,549.37H61M47,553.01H61M53.2,556.66H61M51.4,560.3H61M43.2,563.95H61M39.3,567.6H61M43.9,571.24H61M47,574.88H61M38.1,578.53H61M42.2,582.17H61M47.2,585.82H61M45.9,589.47H61M38.1,593.11H61M42.3,596.75H61M47.5,600.4H61M25.5,604.04H61M48.8,607.69H61M38.6,611.34H61M44.2,614.98H61M49.1,618.62H61M43.8,622.27H61M25.1,625.91H61M41.8,629.56H61M28.6,633.2H61M46.3,636.85H61M48.7,640.5H61" stroke="#858585" stroke-width="0.5" fill="none"/>
<circle cx="30.7" cy="381.7" r="1.8" fill="#2dacab"/>
<circle cx="13.4" cy="385.34" r="1.9" fill="#2dacab"/>
<circle cx="9.6" cy="388.99" r="1.8" fill="#2dacab"/>
<circle cx="31.8" cy="392.63" r="2.1" fill="#2dacab"/>
<circle cx="34.7" cy="396.28" r="0.8" fill="#2dacab"/>
<circle cx="40.4" cy="399.93" r="1.5" fill="#e8716b"/>
<circle cx="32.4" cy="403.57" r="1.6" fill="#e8716b"/>
<circle cx="40.9" cy="407.21" r="2.2" fill="#e8716b"/>
<circle cx="45" cy="410.86" r="1.8" fill="#e8716b"/>
<circle cx="9.9" cy="414.5" r="0.7" fill="#2dacab"/>
<circle cx="4.7" cy="418.15" r="0.9" fill="#2dacab"/>
<circle cx="9.9" cy="421.79" r="0.8" fill="#2dacab"/>
<circle cx="12.3" cy="425.44" r="1.7" fill="#2dacab"/>
<circle cx="11.7" cy="429.08" r="2.1" fill="#2dacab"/>
<circle cx="8.4" cy="432.73" r="2.0" fill="#2dacab"/>
<circle cx="16.6" cy="436.38" r="1.8" fill="#2dacab"/>
<circle cx="20.4" cy="440.02" r="1.9" fill="#2dacab"/>
<circle cx="7.2" cy="443.66" r="2.0" fill="#2dacab"/>
<circle cx="11.1" cy="447.31" r="1.2" fill="#2dacab"/>
<circle cx="18.9" cy="450.95" r="1.8" fill="#2dacab"/>
<circle cx="14" cy="454.6" r="1.8" fill="#2dacab"/>
<circle cx="23.9" cy="458.25" r="1.1" fill="#2dacab"/>
<circle cx="16.6" cy="461.89" r="1.7" fill="#2dacab"/>
<circle cx="29" cy="465.53" r="1.0" fill="#2dacab"/>
<circle cx="49.3" cy="469.18" r="0.8" fill="#2dacab"/>
<circle cx="12.5" cy="472.82" r="2.5" fill="#2dacab"/>
<circle cx="16.9" cy="476.47" r="2.4" fill="#2dacab"/>
<circle cx="29.9" cy="480.12" r="1.0" fill="#2dacab"/>
<circle cx="18.9" cy="483.76" r="1.1" fill="#2dacab"/>
<circle cx="44.4" cy="487.4" r="1.7" fill="#2dacab"/>
<circle cx="25.5" cy="491.05" r="1.4" fill="#2dacab"/>
<circle cx="21" cy="494.69" r="1.2" fill="#2dacab"/>
<circle cx="23.4" cy="498.34" r="0.6" fill="#2dacab"/>
<circle cx="28.6" cy="501.99" r="0.6" fill="#e8716b"/>
<circle cx="52.2" cy="505.63" r="0.7" fill="#e8716b"/>
<circle cx="52.2" cy="509.27" r="0.6" fill="#e8716b"/>
<circle cx="43.9" cy="512.92" r="2.0" fill="#e8716b"/>
<circle cx="37.7" cy="516.57" r="0.9" fill="#e8716b"/>
<circle cx="45.2" cy="520.21" r="1.0" fill="#e8716b"/>
<circle cx="34.2" cy="523.86" r="1.1" fill="#e8716b"/>
<circle cx="43.9" cy="527.5" r="0.9" fill="#e8716b"/>
<circle cx="34.2" cy="531.14" r="1.3" fill="#e8716b"/>
<circle cx="45.6" cy="534.79" r="1.0" fill="#e8716b"/>
<circle cx="41.5" cy="538.43" r="0.7" fill="#e8716b"/>
<circle cx="43.2" cy="542.08" r="1.0" fill="#e8716b"/>
<circle cx="42.9" cy="545.73" r="1.7" fill="#e8716b"/>
<circle cx="45.8" cy="549.37" r="1.2" fill="#e8716b"/>
<circle cx="47" cy="553.01" r="1.3" fill="#e8716b"/>
<circle cx="53.2" cy="556.66" r="0.9" fill="#e8716b"/>
<circle cx="51.4" cy="560.3" r="0.4" fill="#e8716b"/>
<circle cx="43.2" cy="563.95" r="0.9" fill="#e8716b"/>
<circle cx="39.3" cy="567.6" r="0.9" fill="#e8716b"/>
<circle cx="43.9" cy="571.24" r="1.3" fill="#e8716b"/>
<circle cx="47" cy="574.88" r="1.7" fill="#e8716b"/>
<circle cx="38.1" cy="578.53" r="2.2" fill="#e8716b"/>
<circle cx="42.2" cy="582.17" r="2.4" fill="#e8716b"/>
<circle cx="47.2" cy="585.82" r="1.9" fill="#e8716b"/>
<circle cx="45.9" cy="589.47" r="2.4" fill="#e8716b"/>
<circle cx="38.1" cy="593.11" r="1.0" fill="#e8716b"/>
<circle cx="42.3" cy="596.75" r="0.9" fill="#e8716b"/>
<circle cx="47.5" cy="600.4" r="0.8" fill="#e8716b"/>
<circle cx="25.5" cy="604.04" r="1.7" fill="#e8716b"/>
<circle cx="48.8" cy="607.69" r="0.7" fill="#e8716b"/>
<circle cx="38.6" cy="611.34" r="0.7" fill="#e8716b"/>
<circle cx="44.2" cy="614.98" r="0.7" fill="#2dacab"/>
<circle cx="49.1" cy="618.62" r="1.1" fill="#e8716b"/>
<circle cx="43.8" cy="622.27" r="2.2" fill="#e8716b"/>
<circle cx="25.1" cy="625.91" r="0.8" fill="#e8716b"/>
<circle cx="41.8" cy="629.56" r="1.4" fill="#e8716b"/>
<circle cx="28.6" cy="633.2" r="2.4" fill="#e8716b"/>
<circle cx="46.3" cy="636.85" r="1.9" fill="#e8716b"/>
<circle cx="48.7" cy="640.5" r="2.2" fill="#e8716b"/>
<rect x="25.7" y="381.1" width="1.2" height="1.2" fill="#222"/>
<rect x="25.7" y="392.03" width="1.2" height="1.2" fill="#222"/>
<rect x="25.7" y="395.68" width="1.2" height="1.2" fill="#222"/>
<rect x="25.7" y="486.8" width="1.2" height="1.2" fill="#222"/>
<rect x="25.7" y="614.38" width="1.2" height="1.2" fill="#222"/>
<path d="M102.55,381.4h0.6v0.6h-0.6zM106.99,381.4h0.6v0.6h-0.6zM111.43,381.4h0.6v0.6h-0.6zM115.88,381.4h0.6v0.6h-0.6zM120.32,381.4h0.6v0.6h-0.6zM124.77,381.4h0.6v0.6h-0.6zM129.21,381.4h0.6v0.6h-0.6zM133.65,381.4h0.6v0.6h-0.6zM102.55,385.04h0.6v0.6h-0.6zM106.99,385.04h0.6v0.6h-0.6zM111.43,385.04h0.6v0.6h-0.6zM115.88,385.04h0.6v0.6h-0.6zM120.32,385.04h0.6v0.6h-0.6zM124.77,385.04h0.6v0.6h-0.6zM129.21,385.04h0.6v0.6h-0.6zM133.65,385.04h0.6v0.6h-0.6zM138.1,385.04h0.6v0.6h-0.6zM98.1,388.69h0.6v0.6h-0.6zM102.55,388.69h0.6v0.6h-0.6zM106.99,388.69h0.6v0.6h-0.6zM111.43,388.69h0.6v0.6h-0.6zM115.88,388.69h0.6v0.6h-0.6zM120.32,388.69h0.6v0.6h-0.6zM124.77,388.69h0.6v0.6h-0.6zM129.21,388.69h0.6v0.6h-0.6zM133.65,388.69h0.6v0.6h-0.6zM138.1,388.69h0.6v0.6h-0.6zM98.1,392.33h0.6v0.6h-0.6zM102.55,392.33h0.6v0.6h-0.6zM106.99,392.33h0.6v0.6h-0.6zM111.43,392.33h0.6v0.6h-0.6zM115.88,392.33h0.6v0.6h-0.6zM120.32,392.33h0.6v0.6h-0.6zM124.77,392.33h0.6v0.6h-0.6zM129.21,392.33h0.6v0.6h-0.6zM133.65,392.33h0.6v0.6h-0.6zM98.1,395.98h0.6v0.6h-0.6zM102.55,395.98h0.6v0.6h-0.6zM106.99,395.98h0.6v0.6h-0.6zM111.43,395.98h0.6v0.6h-0.6zM115.88,395.98h0.6v0.6h-0.6zM120.32,395.98h0.6v0.6h-0.6zM124.77,395.98h0.6v0.6h-0.6zM129.21,395.98h0.6v0.6h-0.6zM133.65,395.98h0.6v0.6h-0.6zM102.55,399.62h0.6v0.6h-0.6zM106.99,399.62h0.6v0.6h-0.6zM111.43,399.62h0.6v0.6h-0.6zM115.88,399.62h0.6v0.6h-0.6zM120.32,399.62h0.6v0.6h-0.6zM124.77,399.62h0.6v0.6h-0.6zM129.21,399.62h0.6v0.6h-0.6zM98.1,403.27h0.6v0.6h-0.6zM102.55,403.27h0.6v0.6h-0.6zM106.99,403.27h0.6v0.6h-0.6zM111.43,403.27h0.6v0.6h-0.6zM115.88,403.27h0.6v0.6h-0.6zM120.32,403.27h0.6v0.6h-0.6zM124.77,403.27h0.6v0.6h-0.6zM129.21,403.27h0.6v0.6h-0.6zM98.1,406.91h0.6v0.6h-0.6zM102.55,406.91h0.6v0.6h-0.6zM106.99,406.91h0.6v0.6h-0.6zM111.43,406.91h0.6v0.6h-0.6zM115.88,406.91h0.6v0.6h-0.6zM120.32,406.91h0.6v0.6h-0.6zM124.77,406.91h0.6v0.6h-0.6zM102.55,410.56h0.6v0.6h-0.6zM106.99,410.56h0.6v0.6h-0.6zM111.43,410.56h0.6v0.6h-0.6zM115.88,410.56h0.6v0.6h-0.6zM120.32,410.56h0.6v0.6h-0.6zM124.77,410.56h0.6v0.6h-0.6zM106.99,414.2h0.6v0.6h-0.6zM111.43,414.2h0.6v0.6h-0.6zM115.88,414.2h0.6v0.6h-0.6zM120.32,414.2h0.6v0.6h-0.6zM124.77,414.2h0.6v0.6h-0.6zM129.21,414.2h0.6v0.6h-0.6zM133.65,414.2h0.6v0.6h-0.6zM138.1,414.2h0.6v0.6h-0.6zM106.99,417.85h0.6v0.6h-0.6zM111.43,417.85h0.6v0.6h-0.6zM115.88,417.85h0.6v0.6h-0.6zM120.32,417.85h0.6v0.6h-0.6zM124.77,417.85h0.6v0.6h-0.6zM129.21,417.85h0.6v0.6h-0.6zM133.65,417.85h0.6v0.6h-0.6zM138.1,417.85h0.6v0.6h-0.6zM142.54,417.85h0.6v0.6h-0.6zM106.99,421.49h0.6v0.6h-0.6zM111.43,421.49h0.6v0.6h-0.6zM115.88,421.49h0.6v0.6h-0.6zM120.32,421.49h0.6v0.6h-0.6zM124.77,421.49h0.6v0.6h-0.6zM129.21,421.49h0.6v0.6h-0.6zM133.65,421.49h0.6v0.6h-0.6zM138.1,421.49h0.6v0.6h-0.6zM142.54,421.49h0.6v0.6h-0.6zM146.99,421.49h0.6v0.6h-0.6zM102.55,425.14h0.6v0.6h-0.6zM106.99,425.14h0.6v0.6h-0.6zM111.43,425.14h0.6v0.6h-0.6zM115.88,425.14h0.6v0.6h-0.6zM120.32,425.14h0.6v0.6h-0.6zM124.77,425.14h0.6v0.6h-0.6zM129.21,425.14h0.6v0.6h-0.6zM133.65,425.14h0.6v0.6h-0.6zM138.1,425.14h0.6v0.6h-0.6zM142.54,425.14h0.6v0.6h-0.6zM146.99,425.14h0.6v0.6h-0.6zM102.55,428.78h0.6v0.6h-0.6zM106.99,428.78h0.6v0.6h-0.6zM111.43,428.78h0.6v0.6h-0.6zM115.88,428.78h0.6v0.6h-0.6zM120.32,428.78h0.6v0.6h-0.6zM124.77,428.78h0.6v0.6h-0.6zM129.21,428.78h0.6v0.6h-0.6zM133.65,428.78h0.6v0.6h-0.6zM138.1,428.78h0.6v0.6h-0.6zM142.54,428.78h0.6v0.6h-0.6zM98.1,432.43h0.6v0.6h-0.6zM102.55,432.43h0.6v0.6h-0.6zM106.99,432.43h0.6v0.6h-0.6zM111.43,432.43h0.6v0.6h-0.6zM115.88,432.43h0.6v0.6h-0.6zM120.32,432.43h0.6v0.6h-0.6zM124.77,432.43h0.6v0.6h-0.6zM129.21,432.43h0.6v0.6h-0.6zM133.65,432.43h0.6v0.6h-0.6zM138.1,432.43h0.6v0.6h-0.6zM142.54,432.43h0.6v0.6h-0.6zM98.1,436.07h0.6v0.6h-0.6zM102.55,436.07h0.6v0.6h-0.6zM106.99,436.07h0.6v0.6h-0.6zM111.43,436.07h0.6v0.6h-0.6zM115.88,436.07h0.6v0.6h-0.6zM120.32,436.07h0.6v0.6h-0.6zM124.77,436.07h0.6v0.6h-0.6zM129.21,436.07h0.6v0.6h-0.6zM133.65,436.07h0.6v0.6h-0.6zM138.1,436.07h0.6v0.6h-0.6zM142.54,436.07h0.6v0.6h-0.6zM146.99,436.07h0.6v0.6h-0.6zM102.55,439.72h0.6v0.6h-0.6zM106.99,439.72h0.6v0.6h-0.6zM111.43,439.72h0.6v0.6h-0.6zM115.88,439.72h0.6v0.6h-0.6zM120.32,439.72h0.6v0.6h-0.6zM124.77,439.72h0.6v0.6h-0.6zM129.21,439.72h0.6v0.6h-0.6zM133.65,439.72h0.6v0.6h-0.6zM138.1,439.72h0.6v0.6h-0.6zM142.54,439.72h0.6v0.6h-0.6zM146.99,439.72h0.6v0.6h-0.6zM151.43,439.72h0.6v0.6h-0.6zM155.87,439.72h0.6v0.6h-0.6zM160.32,439.72h0.6v0.6h-0.6zM98.1,443.36h0.6v0.6h-0.6zM102.55,443.36h0.6v0.6h-0.6zM106.99,443.36h0.6v0.6h-0.6zM111.43,443.36h0.6v0.6h-0.6zM115.88,443.36h0.6v0.6h-0.6zM120.32,443.36h0.6v0.6h-0.6zM124.77,443.36h0.6v0.6h-0.6zM129.21,443.36h0.6v0.6h-0.6zM133.65,443.36h0.6v0.6h-0.6zM138.1,443.36h0.6v0.6h-0.6zM142.54,443.36h0.6v0.6h-0.6zM146.99,443.36h0.6v0.6h-0.6zM151.43,443.36h0.6v0.6h-0.6zM155.87,443.36h0.6v0.6h-0.6zM160.32,443.36h0.6v0.6h-0.6zM98.1,447.01h0.6v0.6h-0.6zM102.55,447.01h0.6v0.6h-0.6zM106.99,447.01h0.6v0.6h-0.6zM111.43,447.01h0.6v0.6h-0.6zM115.88,447.01h0.6v0.6h-0.6zM120.32,447.01h0.6v0.6h-0.6zM124.77,447.01h0.6v0.6h-0.6zM129.21,447.01h0.6v0.6h-0.6zM133.65,447.01h0.6v0.6h-0.6zM138.1,447.01h0.6v0.6h-0.6zM142.54,447.01h0.6v0.6h-0.6zM146.99,447.01h0.6v0.6h-0.6zM151.43,447.01h0.6v0.6h-0.6zM155.87,447.01h0.6v0.6h-0.6zM102.55,450.65h0.6v0.6h-0.6zM106.99,450.65h0.6v0.6h-0.6zM111.43,450.65h0.6v0.6h-0.6zM115.88,450.65h0.6v0.6h-0.6zM120.32,450.65h0.6v0.6h-0.6zM124.77,450.65h0.6v0.6h-0.6zM129.21,450.65h0.6v0.6h-0.6zM133.65,450.65h0.6v0.6h-0.6zM138.1,450.65h0.6v0.6h-0.6zM142.54,450.65h0.6v0.6h-0.6zM146.99,450.65h0.6v0.6h-0.6zM151.43,450.65h0.6v0.6h-0.6zM102.55,454.3h0.6v0.6h-0.6zM106.99,454.3h0.6v0.6h-0.6zM111.43,454.3h0.6v0.6h-0.6zM115.88,454.3h0.6v0.6h-0.6zM120.32,454.3h0.6v0.6h-0.6zM124.77,454.3h0.6v0.6h-0.6zM129.21,454.3h0.6v0.6h-0.6zM133.65,454.3h0.6v0.6h-0.6zM138.1,454.3h0.6v0.6h-0.6zM142.54,454.3h0.6v0.6h-0.6zM146.99,454.3h0.6v0.6h-0.6zM151.43,454.3h0.6v0.6h-0.6zM106.99,457.94h0.6v0.6h-0.6zM111.43,457.94h0.6v0.6h-0.6zM115.88,457.94h0.6v0.6h-0.6zM120.32,457.94h0.6v0.6h-0.6zM124.77,457.94h0.6v0.6h-0.6zM129.21,457.94h0.6v0.6h-0.6zM133.65,457.94h0.6v0.6h-0.6zM138.1,457.94h0.6v0.6h-0.6zM142.54,457.94h0.6v0.6h-0.6zM146.99,457.94h0.6v0.6h-0.6zM151.43,457.94h0.6v0.6h-0.6zM155.87,457.94h0.6v0.6h-0.6zM102.55,461.59h0.6v0.6h-0.6zM106.99,461.59h0.6v0.6h-0.6zM111.43,461.59h0.6v0.6h-0.6zM115.88,461.59h0.6v0.6h-0.6zM120.32,461.59h0.6v0.6h-0.6zM124.77,461.59h0.6v0.6h-0.6zM129.21,461.59h0.6v0.6h-0.6zM133.65,461.59h0.6v0.6h-0.6zM138.1,461.59h0.6v0.6h-0.6zM142.54,461.59h0.6v0.6h-0.6zM146.99,461.59h0.6v0.6h-0.6zM151.43,461.59h0.6v0.6h-0.6zM155.87,461.59h0.6v0.6h-0.6zM106.99,465.23h0.6v0.6h-0.6zM111.43,465.23h0.6v0.6h-0.6zM115.88,465.23h0.6v0.6h-0.6zM120.32,465.23h0.6v0.6h-0.6zM124.77,465.23h0.6v0.6h-0.6zM129.21,465.23h0.6v0.6h-0.6zM133.65,465.23h0.6v0.6h-0.6zM138.1,465.23h0.6v0.6h-0.6zM142.54,465.23h0.6v0.6h-0.6zM146.99,465.23h0.6v0.6h-0.6zM151.43,465.23h0.6v0.6h-0.6zM155.87,465.23h0.6v0.6h-0.6zM160.32,465.23h0.6v0.6h-0.6zM106.99,468.88h0.6v0.6h-0.6zM111.43,468.88h0.6v0.6h-0.6zM115.88,468.88h0.6v0.6h-0.6zM120.32,468.88h0.6v0.6h-0.6zM124.77,468.88h0.6v0.6h-0.6zM129.21,468.88h0.6v0.6h-0.6zM133.65,468.88h0.6v0.6h-0.6zM138.1,468.88h0.6v0.6h-0.6zM142.54,468.88h0.6v0.6h-0.6zM146.99,468.88h0.6v0.6h-0.6zM151.43,468.88h0.6v0.6h-0.6zM155.87,468.88h0.6v0.6h-0.6zM160.32,468.88h0.6v0.6h-0.6zM164.76,468.88h0.6v0.6h-0.6zM93.66,472.52h0.6v0.6h-0.6zM98.1,472.52h0.6v0.6h-0.6zM102.55,472.52h0.6v0.6h-0.6zM106.99,472.52h0.6v0.6h-0.6zM111.43,472.52h0.6v0.6h-0.6zM115.88,472.52h0.6v0.6h-0.6zM120.32,472.52h0.6v0.6h-0.6zM124.77,472.52h0.6v0.6h-0.6zM129.21,472.52h0.6v0.6h-0.6zM133.65,472.52h0.6v0.6h-0.6zM138.1,472.52h0.6v0.6h-0.6zM142.54,472.52h0.6v0.6h-0.6zM146.99,472.52h0.6v0.6h-0.6zM151.43,472.52h0.6v0.6h-0.6zM155.87,472.52h0.6v0.6h-0.6zM160.32,472.52h0.6v0.6h-0.6zM164.76,472.52h0.6v0.6h-0.6zM93.66,476.17h0.6v0.6h-0.6zM98.1,476.17h0.6v0.6h-0.6zM102.55,476.17h0.6v0.6h-0.6zM106.99,476.17h0.6v0.6h-0.6zM111.43,476.17h0.6v0.6h-0.6zM115.88,476.17h0.6v0.6h-0.6zM120.32,476.17h0.6v0.6h-0.6zM124.77,476.17h0.6v0.6h-0.6zM129.21,476.17h0.6v0.6h-0.6zM133.65,476.17h0.6v0.6h-0.6zM138.1,476.17h0.6v0.6h-0.6zM142.54,476.17h0.6v0.6h-0.6zM146.99,476.17h0.6v0.6h-0.6zM151.43,476.17h0.6v0.6h-0.6zM155.87,476.17h0.6v0.6h-0.6zM160.32,476.17h0.6v0.6h-0.6zM89.21,479.81h0.6v0.6h-0.6zM93.66,479.81h0.6v0.6h-0.6zM98.1,479.81h0.6v0.6h-0.6zM102.55,479.81h0.6v0.6h-0.6zM106.99,479.81h0.6v0.6h-0.6zM111.43,479.81h0.6v0.6h-0.6zM115.88,479.81h0.6v0.6h-0.6zM120.32,479.81h0.6v0.6h-0.6zM124.77,479.81h0.6v0.6h-0.6zM129.21,479.81h0.6v0.6h-0.6zM133.65,479.81h0.6v0.6h-0.6zM138.1,479.81h0.6v0.6h-0.6zM142.54,479.81h0.6v0.6h-0.6zM146.99,479.81h0.6v0.6h-0.6zM151.43,479.81h0.6v0.6h-0.6zM155.87,479.81h0.6v0.6h-0.6zM160.32,479.81h0.6v0.6h-0.6zM164.76,479.81h0.6v0.6h-0.6zM71.44,483.46h0.6v0.6h-0.6zM75.88,483.46h0.6v0.6h-0.6zM80.33,483.46h0.6v0.6h-0.6zM84.77,483.46h0.6v0.6h-0.6zM89.21,483.46h0.6v0.6h-0.6zM93.66,483.46h0.6v0.6h-0.6zM98.1,483.46h0.6v0.6h-0.6zM102.55,483.46h0.6v0.6h-0.6zM106.99,483.46h0.6v0.6h-0.6zM111.43,483.46h0.6v0.6h-0.6zM115.88,483.46h0.6v0.6h-0.6zM120.32,483.46h0.6v0.6h-0.6zM124.77,483.46h0.6v0.6h-0.6zM129.21,483.46h0.6v0.6h-0.6zM133.65,483.46h0.6v0.6h-0.6zM138.1,483.46h0.6v0.6h-0.6zM142.54,483.46h0.6v0.6h-0.6zM146.99,483.46h0.6v0.6h-0.6zM151.43,483.46h0.6v0.6h-0.6zM71.44,487.1h0.6v0.6h-0.6zM75.88,487.1h0.6v0.6h-0.6zM80.33,487.1h0.6v0.6h-0.6zM84.77,487.1h0.6v0.6h-0.6zM89.21,487.1h0.6v0.6h-0.6zM93.66,487.1h0.6v0.6h-0.6zM98.1,487.1h0.6v0.6h-0.6zM102.55,487.1h0.6v0.6h-0.6zM106.99,487.1h0.6v0.6h-0.6zM111.43,487.1h0.6v0.6h-0.6zM115.88,487.1h0.6v0.6h-0.6zM120.32,487.1h0.6v0.6h-0.6zM124.77,487.1h0.6v0.6h-0.6zM129.21,487.1h0.6v0.6h-0.6zM133.65,487.1h0.6v0.6h-0.6zM84.77,490.75h0.6v0.6h-0.6zM89.21,490.75h0.6v0.6h-0.6zM93.66,490.75h0.6v0.6h-0.6zM98.1,490.75h0.6v0.6h-0.6zM102.55,490.75h0.6v0.6h-0.6zM106.99,490.75h0.6v0.6h-0.6zM111.43,490.75h0.6v0.6h-0.6zM115.88,490.75h0.6v0.6h-0.6zM120.32,490.75h0.6v0.6h-0.6zM124.77,490.75h0.6v0.6h-0.6zM129.21,490.75h0.6v0.6h-0.6zM133.65,490.75h0.6v0.6h-0.6zM138.1,490.75h0.6v0.6h-0.6zM142.54,490.75h0.6v0.6h-0.6zM89.21,494.39h0.6v0.6h-0.6zM93.66,494.39h0.6v0.6h-0.6zM98.1,494.39h0.6v0.6h-0.6zM102.55,494.39h0.6v0.6h-0.6zM106.99,494.39h0.6v0.6h-0.6zM111.43,494.39h0.6v0.6h-0.6zM115.88,494.39h0.6v0.6h-0.6zM120.32,494.39h0.6v0.6h-0.6zM124.77,494.39h0.6v0.6h-0.6zM129.21,494.39h0.6v0.6h-0.6zM133.65,494.39h0.6v0.6h-0.6zM138.1,494.39h0.6v0.6h-0.6zM142.54,494.39h0.6v0.6h-0.6zM80.33,498.04h0.6v0.6h-0.6zM84.77,498.04h0.6v0.6h-0.6zM89.21,498.04h0.6v0.6h-0.6zM93.66,498.04h0.6v0.6h-0.6zM98.1,498.04h0.6v0.6h-0.6zM102.55,498.04h0.6v0.6h-0.6zM106.99,498.04h0.6v0.6h-0.6zM111.43,498.04h0.6v0.6h-0.6zM115.88,498.04h0.6v0.6h-0.6zM120.32,498.04h0.6v0.6h-0.6zM124.77,498.04h0.6v0.6h-0.6zM129.21,498.04h0.6v0.6h-0.6zM133.65,498.04h0.6v0.6h-0.6zM138.1,498.04h0.6v0.6h-0.6zM142.54,498.04h0.6v0.6h-0.6zM146.99,498.04h0.6v0.6h-0.6zM71.44,501.69h0.6v0.6h-0.6zM75.88,501.69h0.6v0.6h-0.6zM80.33,501.69h0.6v0.6h-0.6zM84.77,501.69h0.6v0.6h-0.6zM89.21,501.69h0.6v0.6h-0.6zM93.66,501.69h0.6v0.6h-0.6zM98.1,501.69h0.6v0.6h-0.6zM102.55,501.69h0.6v0.6h-0.6zM106.99,501.69h0.6v0.6h-0.6zM71.44,505.33h0.6v0.6h-0.6zM75.88,505.33h0.6v0.6h-0.6zM80.33,505.33h0.6v0.6h-0.6zM84.77,505.33h0.6v0.6h-0.6zM89.21,505.33h0.6v0.6h-0.6zM93.66,505.33h0.6v0.6h-0.6zM98.1,505.33h0.6v0.6h-0.6zM102.55,505.33h0.6v0.6h-0.6zM75.88,508.97h0.6v0.6h-0.6zM80.33,508.97h0.6v0.6h-0.6zM84.77,508.97h0.6v0.6h-0.6zM89.21,508.97h0.6v0.6h-0.6zM93.66,508.97h0.6v0.6h-0.6zM98.1,508.97h0.6v0.6h-0.6zM102.55,508.97h0.6v0.6h-0.6zM75.88,512.62h0.6v0.6h-0.6zM80.33,512.62h0.6v0.6h-0.6zM84.77,512.62h0.6v0.6h-0.6zM89.21,512.62h0.6v0.6h-0.6zM93.66,512.62h0.6v0.6h-0.6zM98.1,512.62h0.6v0.6h-0.6zM102.55,512.62h0.6v0.6h-0.6zM106.99,512.62h0.6v0.6h-0.6zM71.44,516.27h0.6v0.6h-0.6zM75.88,516.27h0.6v0.6h-0.6zM80.33,516.27h0.6v0.6h-0.6zM84.77,516.27h0.6v0.6h-0.6zM89.21,516.27h0.6v0.6h-0.6zM93.66,516.27h0.6v0.6h-0.6zM98.1,516.27h0.6v0.6h-0.6zM102.55,516.27h0.6v0.6h-0.6zM106.99,516.27h0.6v0.6h-0.6zM111.43,516.27h0.6v0.6h-0.6zM84.77,519.91h0.6v0.6h-0.6zM89.21,519.91h0.6v0.6h-0.6zM93.66,519.91h0.6v0.6h-0.6zM98.1,519.91h0.6v0.6h-0.6zM102.55,519.91h0.6v0.6h-0.6zM106.99,519.91h0.6v0.6h-0.6zM84.77,523.56h0.6v0.6h-0.6zM89.21,523.56h0.6v0.6h-0.6zM93.66,523.56h0.6v0.6h-0.6zM98.1,523.56h0.6v0.6h-0.6zM102.55,523.56h0.6v0.6h-0.6zM106.99,523.56h0.6v0.6h-0.6zM111.43,523.56h0.6v0.6h-0.6zM89.21,527.2h0.6v0.6h-0.6zM93.66,527.2h0.6v0.6h-0.6zM98.1,527.2h0.6v0.6h-0.6zM102.55,527.2h0.6v0.6h-0.6zM106.99,527.2h0.6v0.6h-0.6zM111.43,527.2h0.6v0.6h-0.6zM75.88,530.85h0.6v0.6h-0.6zM80.33,530.85h0.6v0.6h-0.6zM84.77,530.85h0.6v0.6h-0.6zM89.21,530.85h0.6v0.6h-0.6zM93.66,530.85h0.6v0.6h-0.6zM71.44,534.49h0.6v0.6h-0.6zM75.88,534.49h0.6v0.6h-0.6zM80.33,534.49h0.6v0.6h-0.6zM84.77,534.49h0.6v0.6h-0.6zM89.21,534.49h0.6v0.6h-0.6zM93.66,534.49h0.6v0.6h-0.6zM75.88,538.13h0.6v0.6h-0.6zM80.33,538.13h0.6v0.6h-0.6zM84.77,538.13h0.6v0.6h-0.6zM89.21,538.13h0.6v0.6h-0.6zM93.66,538.13h0.6v0.6h-0.6zM98.1,538.13h0.6v0.6h-0.6zM84.77,541.78h0.6v0.6h-0.6zM89.21,541.78h0.6v0.6h-0.6zM93.66,541.78h0.6v0.6h-0.6zM98.1,541.78h0.6v0.6h-0.6zM80.33,545.43h0.6v0.6h-0.6zM84.77,545.43h0.6v0.6h-0.6zM89.21,545.43h0.6v0.6h-0.6zM93.66,545.43h0.6v0.6h-0.6zM98.1,545.43h0.6v0.6h-0.6zM80.33,549.07h0.6v0.6h-0.6zM84.77,549.07h0.6v0.6h-0.6zM89.21,549.07h0.6v0.6h-0.6zM93.66,549.07h0.6v0.6h-0.6zM80.33,552.72h0.6v0.6h-0.6zM84.77,552.72h0.6v0.6h-0.6zM89.21,552.72h0.6v0.6h-0.6zM93.66,552.72h0.6v0.6h-0.6zM98.1,552.72h0.6v0.6h-0.6zM80.33,556.36h0.6v0.6h-0.6zM84.77,556.36h0.6v0.6h-0.6zM89.21,556.36h0.6v0.6h-0.6zM93.66,556.36h0.6v0.6h-0.6zM98.1,556.36h0.6v0.6h-0.6zM102.55,556.36h0.6v0.6h-0.6zM106.99,556.36h0.6v0.6h-0.6zM111.43,556.36h0.6v0.6h-0.6zM115.88,556.36h0.6v0.6h-0.6zM120.32,556.36h0.6v0.6h-0.6zM124.77,556.36h0.6v0.6h-0.6zM80.33,560h0.6v0.6h-0.6zM84.77,560h0.6v0.6h-0.6zM89.21,560h0.6v0.6h-0.6zM93.66,560h0.6v0.6h-0.6zM98.1,560h0.6v0.6h-0.6zM102.55,560h0.6v0.6h-0.6zM106.99,560h0.6v0.6h-0.6zM111.43,560h0.6v0.6h-0.6zM115.88,560h0.6v0.6h-0.6zM120.32,560h0.6v0.6h-0.6zM124.77,560h0.6v0.6h-0.6zM106.99,563.65h0.6v0.6h-0.6zM111.43,563.65h0.6v0.6h-0.6zM115.88,563.65h0.6v0.6h-0.6zM120.32,563.65h0.6v0.6h-0.6zM106.99,567.3h0.6v0.6h-0.6zM111.43,567.3h0.6v0.6h-0.6zM115.88,567.3h0.6v0.6h-0.6zM106.99,570.94h0.6v0.6h-0.6zM111.43,570.94h0.6v0.6h-0.6zM102.55,574.59h0.6v0.6h-0.6zM106.99,574.59h0.6v0.6h-0.6zM98.1,578.23h0.6v0.6h-0.6zM102.55,578.23h0.6v0.6h-0.6zM106.99,578.23h0.6v0.6h-0.6zM111.43,578.23h0.6v0.6h-0.6zM98.1,581.88h0.6v0.6h-0.6zM102.55,581.88h0.6v0.6h-0.6zM106.99,581.88h0.6v0.6h-0.6zM111.43,581.88h0.6v0.6h-0.6zM102.55,585.52h0.6v0.6h-0.6zM106.99,585.52h0.6v0.6h-0.6zM111.43,585.52h0.6v0.6h-0.6zM93.66,589.17h0.6v0.6h-0.6zM98.1,589.17h0.6v0.6h-0.6zM102.55,589.17h0.6v0.6h-0.6zM106.99,589.17h0.6v0.6h-0.6zM111.43,589.17h0.6v0.6h-0.6zM115.88,589.17h0.6v0.6h-0.6zM89.21,592.81h0.6v0.6h-0.6zM93.66,592.81h0.6v0.6h-0.6zM98.1,592.81h0.6v0.6h-0.6zM102.55,592.81h0.6v0.6h-0.6zM106.99,592.81h0.6v0.6h-0.6zM111.43,592.81h0.6v0.6h-0.6zM115.88,592.81h0.6v0.6h-0.6zM89.21,596.46h0.6v0.6h-0.6zM93.66,596.46h0.6v0.6h-0.6zM98.1,596.46h0.6v0.6h-0.6zM102.55,596.46h0.6v0.6h-0.6zM106.99,596.46h0.6v0.6h-0.6zM111.43,596.46h0.6v0.6h-0.6zM89.21,600.1h0.6v0.6h-0.6zM93.66,600.1h0.6v0.6h-0.6zM98.1,600.1h0.6v0.6h-0.6zM102.55,600.1h0.6v0.6h-0.6zM106.99,600.1h0.6v0.6h-0.6zM111.43,600.1h0.6v0.6h-0.6zM89.21,603.75h0.6v0.6h-0.6zM93.66,603.75h0.6v0.6h-0.6zM98.1,603.75h0.6v0.6h-0.6zM102.55,603.75h0.6v0.6h-0.6zM106.99,603.75h0.6v0.6h-0.6zM111.43,603.75h0.6v0.6h-0.6zM115.88,603.75h0.6v0.6h-0.6zM89.21,607.39h0.6v0.6h-0.6zM93.66,607.39h0.6v0.6h-0.6zM98.1,607.39h0.6v0.6h-0.6zM102.55,607.39h0.6v0.6h-0.6zM106.99,607.39h0.6v0.6h-0.6zM111.43,607.39h0.6v0.6h-0.6zM115.88,607.39h0.6v0.6h-0.6zM120.32,607.39h0.6v0.6h-0.6zM93.66,611.04h0.6v0.6h-0.6zM89.21,614.68h0.6v0.6h-0.6zM93.66,614.68h0.6v0.6h-0.6zM89.21,618.33h0.6v0.6h-0.6zM93.66,618.33h0.6v0.6h-0.6zM93.66,621.97h0.6v0.6h-0.6zM93.66,625.62h0.6v0.6h-0.6zM98.1,625.62h0.6v0.6h-0.6zM93.66,629.26h0.6v0.6h-0.6zM98.1,629.26h0.6v0.6h-0.6zM102.55,629.26h0.6v0.6h-0.6zM93.66,632.9h0.6v0.6h-0.6zM98.1,632.9h0.6v0.6h-0.6zM102.55,632.9h0.6v0.6h-0.6zM102.55,636.55h0.6v0.6h-0.6zM98.1,640.2h0.6v0.6h-0.6zM102.55,640.2h0.6v0.6h-0.6z" fill="#cfcfcf"/>
<path d="M61.85,380.7h2v2h-2zM66.29,380.7h2v2h-2zM70.74,380.7h2v2h-2zM75.18,380.7h2v2h-2zM79.63,380.7h2v2h-2zM84.07,380.7h2v2h-2zM88.51,380.7h2v2h-2zM92.96,380.7h2v2h-2zM97.4,380.7h2v2h-2zM137.4,380.7h2v2h-2zM141.84,380.7h2v2h-2zM146.29,380.7h2v2h-2zM150.73,380.7h2v2h-2zM155.17,380.7h2v2h-2zM159.62,380.7h2v2h-2zM164.06,380.7h2v2h-2zM168.51,380.7h2v2h-2zM172.95,380.7h2v2h-2zM61.85,384.34h2v2h-2zM66.29,384.34h2v2h-2zM70.74,384.34h2v2h-2zM75.18,384.34h2v2h-2zM79.63,384.34h2v2h-2zM84.07,384.34h2v2h-2zM88.51,384.34h2v2h-2zM92.96,384.34h2v2h-2zM97.4,384.34h2v2h-2zM141.84,384.34h2v2h-2zM146.29,384.34h2v2h-2zM150.73,384.34h2v2h-2zM155.17,384.34h2v2h-2zM159.62,384.34h2v2h-2zM164.06,384.34h2v2h-2zM168.51,384.34h2v2h-2zM172.95,384.34h2v2h-2zM61.85,387.99h2v2h-2zM66.29,387.99h2v2h-2zM70.74,387.99h2v2h-2zM75.18,387.99h2v2h-2zM79.63,387.99h2v2h-2zM84.07,387.99h2v2h-2zM88.51,387.99h2v2h-2zM92.96,387.99h2v2h-2zM141.84,387.99h2v2h-2zM146.29,387.99h2v2h-2zM150.73,387.99h2v2h-2zM155.17,387.99h2v2h-2zM159.62,387.99h2v2h-2zM164.06,387.99h2v2h-2zM168.51,387.99h2v2h-2zM172.95,387.99h2v2h-2zM61.85,391.63h2v2h-2zM66.29,391.63h2v2h-2zM70.74,391.63h2v2h-2zM75.18,391.63h2v2h-2zM79.63,391.63h2v2h-2zM84.07,391.63h2v2h-2zM88.51,391.63h2v2h-2zM92.96,391.63h2v2h-2zM137.4,391.63h2v2h-2zM141.84,391.63h2v2h-2zM146.29,391.63h2v2h-2zM150.73,391.63h2v2h-2zM155.17,391.63h2v2h-2zM159.62,391.63h2v2h-2zM164.06,391.63h2v2h-2zM168.51,391.63h2v2h-2zM172.95,391.63h2v2h-2zM61.85,395.28h2v2h-2zM66.29,395.28h2v2h-2zM70.74,395.28h2v2h-2zM75.18,395.28h2v2h-2zM79.63,395.28h2v2h-2zM84.07,395.28h2v2h-2zM88.51,395.28h2v2h-2zM92.96,395.28h2v2h-2zM137.4,395.28h2v2h-2zM141.84,395.28h2v2h-2zM146.29,395.28h2v2h-2zM150.73,395.28h2v2h-2zM155.17,395.28h2v2h-2zM159.62,395.28h2v2h-2zM164.06,395.28h2v2h-2zM168.51,395.28h2v2h-2zM172.95,395.28h2v2h-2zM61.85,398.93h2v2h-2zM66.29,398.93h2v2h-2zM70.74,398.93h2v2h-2zM75.18,398.93h2v2h-2zM79.63,398.93h2v2h-2zM84.07,398.93h2v2h-2zM88.51,398.93h2v2h-2zM92.96,398.93h2v2h-2zM97.4,398.93h2v2h-2zM132.95,398.93h2v2h-2zM137.4,398.93h2v2h-2zM141.84,398.93h2v2h-2zM146.29,398.93h2v2h-2zM150.73,398.93h2v2h-2zM155.17,398.93h2v2h-2zM159.62,398.93h2v2h-2zM164.06,398.93h2v2h-2zM168.51,398.93h2v2h-2zM172.95,398.93h2v2h-2zM61.85,402.57h2v2h-2zM66.29,402.57h2v2h-2zM70.74,402.57h2v2h-2zM75.18,402.57h2v2h-2zM79.63,402.57h2v2h-2zM84.07,402.57h2v2h-2zM88.51,402.57h2v2h-2zM92.96,402.57h2v2h-2zM132.95,402.57h2v2h-2zM137.4,402.57h2v2h-2zM141.84,402.57h2v2h-2zM146.29,402.57h2v2h-2zM150.73,402.57h2v2h-2zM155.17,402.57h2v2h-2zM159.62,402.57h2v2h-2zM164.06,402.57h2v2h-2zM168.51,402.57h2v2h-2zM172.95,402.57h2v2h-2zM61.85,406.21h2v2h-2zM66.29,406.21h2v2h-2zM70.74,406.21h2v2h-2zM75.18,406.21h2v2h-2zM79.63,406.21h2v2h-2zM84.07,406.21h2v2h-2zM88.51,406.21h2v2h-2zM92.96,406.21h2v2h-2zM128.51,406.21h2v2h-2zM132.95,406.21h2v2h-2zM137.4,406.21h2v2h-2zM141.84,406.21h2v2h-2zM146.29,406.21h2v2h-2zM150.73,406.21h2v2h-2zM155.17,406.21h2v2h-2zM159.62,406.21h2v2h-2zM164.06,406.21h2v2h-2zM168.51,406.21h2v2h-2zM172.95,406.21h2v2h-2zM61.85,409.86h2v2h-2zM66.29,409.86h2v2h-2zM70.74,409.86h2v2h-2zM75.18,409.86h2v2h-2zM79.63,409.86h2v2h-2zM84.07,409.86h2v2h-2zM88.51,409.86h2v2h-2zM92.96,409.86h2v2h-2zM97.4,409.86h2v2h-2zM128.51,409.86h2v2h-2zM132.95,409.86h2v2h-2zM137.4,409.86h2v2h-2zM141.84,409.86h2v2h-2zM146.29,409.86h2v2h-2zM150.73,409.86h2v2h-2zM155.17,409.86h2v2h-2zM159.62,409.86h2v2h-2zM164.06,409.86h2v2h-2zM168.51,409.86h2v2h-2zM172.95,409.86h2v2h-2zM61.85,413.5h2v2h-2zM66.29,413.5h2v2h-2zM70.74,413.5h2v2h-2zM75.18,413.5h2v2h-2zM79.63,413.5h2v2h-2zM84.07,413.5h2v2h-2zM88.51,413.5h2v2h-2zM92.96,413.5h2v2h-2zM97.4,413.5h2v2h-2zM101.85,413.5h2v2h-2zM141.84,413.5h2v2h-2zM146.29,413.5h2v2h-2zM150.73,413.5h2v2h-2zM155.17,413.5h2v2h-2zM159.62,413.5h2v2h-2zM164.06,413.5h2v2h-2zM168.51,413.5h2v2h-2zM172.95,413.5h2v2h-2zM61.85,417.15h2v2h-2zM66.29,417.15h2v2h-2zM70.74,417.15h2v2h-2zM75.18,417.15h2v2h-2zM79.63,417.15h2v2h-2zM84.07,417.15h2v2h-2zM88.51,417.15h2v2h-2zM92.96,417.15h2v2h-2zM97.4,417.15h2v2h-2zM101.85,417.15h2v2h-2zM146.29,417.15h2v2h-2zM150.73,417.15h2v2h-2zM155.17,417.15h2v2h-2zM159.62,417.15h2v2h-2zM164.06,417.15h2v2h-2zM168.51,417.15h2v2h-2zM172.95,417.15h2v2h-2zM61.85,420.79h2v2h-2zM66.29,420.79h2v2h-2zM70.74,420.79h2v2h-2zM75.18,420.79h2v2h-2zM79.63,420.79h2v2h-2zM84.07,420.79h2v2h-2zM88.51,420.79h2v2h-2zM92.96,420.79h2v2h-2zM97.4,420.79h2v2h-2zM101.85,420.79h2v2h-2zM150.73,420.79h2v2h-2zM155.17,420.79h2v2h-2zM159.62,420.79h2v2h-2zM164.06,420.79h2v2h-2zM168.51,420.79h2v2h-2zM172.95,420.79h2v2h-2zM61.85,424.44h2v2h-2zM66.29,424.44h2v2h-2zM70.74,424.44h2v2h-2zM75.18,424.44h2v2h-2zM79.63,424.44h2v2h-2zM84.07,424.44h2v2h-2zM88.51,424.44h2v2h-2zM92.96,424.44h2v2h-2zM97.4,424.44h2v2h-2zM150.73,424.44h2v2h-2zM155.17,424.44h2v2h-2zM159.62,424.44h2v2h-2zM164.06,424.44h2v2h-2zM168.51,424.44h2v2h-2zM172.95,424.44h2v2h-2zM61.85,428.08h2v2h-2zM66.29,428.08h2v2h-2zM70.74,428.08h2v2h-2zM75.18,428.08h2v2h-2zM79.63,428.08h2v2h-2zM84.07,428.08h2v2h-2zM88.51,428.08h2v2h-2zM92.96,428.08h2v2h-2zM97.4,428.08h2v2h-2zM146.29,428.08h2v2h-2zM150.73,428.08h2v2h-2zM155.17,428.08h2v2h-2zM159.62,428.08h2v2h-2zM164.06,428.08h2v2h-2zM168.51,428.08h2v2h-2zM172.95,428.08h2v2h-2zM61.85,431.73h2v2h-2zM66.29,431.73h2v2h-2zM70.74,431.73h2v2h-2zM75.18,431.73h2v2h-2zM79.63,431.73h2v2h-2zM84.07,431.73h2v2h-2zM88.51,431.73h2v2h-2zM92.96,431.73h2v2h-2zM146.29,431.73h2v2h-2zM150.73,431.73h2v2h-2zM155.17,431.73h2v2h-2zM159.62,431.73h2v2h-2zM164.06,431.73h2v2h-2zM168.51,431.73h2v2h-2zM172.95,431.73h2v2h-2zM61.85,435.38h2v2h-2zM66.29,435.38h2v2h-2zM70.74,435.38h2v2h-2zM75.18,435.38h2v2h-2zM79.63,435.38h2v2h-2zM84.07,435.38h2v2h-2zM88.51,435.38h2v2h-2zM92.96,435.38h2v2h-2zM150.73,435.38h2v2h-2zM155.17,435.38h2v2h-2zM159.62,435.38h2v2h-2zM164.06,435.38h2v2h-2zM168.51,435.38h2v2h-2zM172.95,435.38h2v2h-2zM61.85,439.02h2v2h-2zM66.29,439.02h2v2h-2zM70.74,439.02h2v2h-2zM75.18,439.02h2v2h-2zM79.63,439.02h2v2h-2zM84.07,439.02h2v2h-2zM88.51,439.02h2v2h-2zM92.96,439.02h2v2h-2zM97.4,439.02h2v2h-2zM164.06,439.02h2v2h-2zM168.51,439.02h2v2h-2zM172.95,439.02h2v2h-2zM61.85,442.66h2v2h-2zM66.29,442.66h2v2h-2zM70.74,442.66h2v2h-2zM75.18,442.66h2v2h-2zM79.63,442.66h2v2h-2zM84.07,442.66h2v2h-2zM88.51,442.66h2v2h-2zM92.96,442.66h2v2h-2zM164.06,442.66h2v2h-2zM168.51,442.66h2v2h-2zM172.95,442.66h2v2h-2zM61.85,446.31h2v2h-2zM66.29,446.31h2v2h-2zM70.74,446.31h2v2h-2zM75.18,446.31h2v2h-2zM79.63,446.31h2v2h-2zM84.07,446.31h2v2h-2zM88.51,446.31h2v2h-2zM92.96,446.31h2v2h-2zM159.62,446.31h2v2h-2zM164.06,446.31h2v2h-2zM168.51,446.31h2v2h-2zM172.95,446.31h2v2h-2zM61.85,449.95h2v2h-2zM66.29,449.95h2v2h-2zM70.74,449.95h2v2h-2zM75.18,449.95h2v2h-2zM79.63,449.95h2v2h-2zM84.07,449.95h2v2h-2zM88.51,449.95h2v2h-2zM92.96,449.95h2v2h-2zM97.4,449.95h2v2h-2zM155.17,449.95h2v2h-2zM159.62,449.95h2v2h-2zM164.06,449.95h2v2h-2zM168.51,449.95h2v2h-2zM172.95,449.95h2v2h-2zM61.85,453.6h2v2h-2zM66.29,453.6h2v2h-2zM70.74,453.6h2v2h-2zM75.18,453.6h2v2h-2zM79.63,453.6h2v2h-2zM84.07,453.6h2v2h-2zM88.51,453.6h2v2h-2zM92.96,453.6h2v2h-2zM97.4,453.6h2v2h-2zM155.17,453.6h2v2h-2zM159.62,453.6h2v2h-2zM164.06,453.6h2v2h-2zM168.51,453.6h2v2h-2zM172.95,453.6h2v2h-2zM61.85,457.25h2v2h-2zM66.29,457.25h2v2h-2zM70.74,457.25h2v2h-2zM75.18,457.25h2v2h-2zM79.63,457.25h2v2h-2zM84.07,457.25h2v2h-2zM88.51,457.25h2v2h-2zM92.96,457.25h2v2h-2zM97.4,457.25h2v2h-2zM101.85,457.25h2v2h-2zM159.62,457.25h2v2h-2zM164.06,457.25h2v2h-2zM168.51,457.25h2v2h-2zM172.95,457.25h2v2h-2zM61.85,460.89h2v2h-2zM66.29,460.89h2v2h-2zM70.74,460.89h2v2h-2zM75.18,460.89h2v2h-2zM79.63,460.89h2v2h-2zM84.07,460.89h2v2h-2zM88.51,460.89h2v2h-2zM92.96,460.89h2v2h-2zM97.4,460.89h2v2h-2zM159.62,460.89h2v2h-2zM164.06,460.89h2v2h-2zM168.51,460.89h2v2h-2zM172.95,460.89h2v2h-2zM61.85,464.53h2v2h-2zM66.29,464.53h2v2h-2zM70.74,464.53h2v2h-2zM75.18,464.53h2v2h-2zM79.63,464.53h2v2h-2zM84.07,464.53h2v2h-2zM88.51,464.53h2v2h-2zM92.96,464.53h2v2h-2zM97.4,464.53h2v2h-2zM101.85,464.53h2v2h-2zM164.06,464.53h2v2h-2zM168.51,464.53h2v2h-2zM172.95,464.53h2v2h-2zM61.85,468.18h2v2h-2zM66.29,468.18h2v2h-2zM70.74,468.18h2v2h-2zM75.18,468.18h2v2h-2zM79.63,468.18h2v2h-2zM84.07,468.18h2v2h-2zM88.51,468.18h2v2h-2zM92.96,468.18h2v2h-2zM97.4,468.18h2v2h-2zM101.85,468.18h2v2h-2zM168.51,468.18h2v2h-2zM172.95,468.18h2v2h-2zM61.85,471.82h2v2h-2zM66.29,471.82h2v2h-2zM70.74,471.82h2v2h-2zM75.18,471.82h2v2h-2zM79.63,471.82h2v2h-2zM84.07,471.82h2v2h-2zM88.51,471.82h2v2h-2zM168.51,471.82h2v2h-2zM172.95,471.82h2v2h-2zM61.85,475.47h2v2h-2zM66.29,475.47h2v2h-2zM70.74,475.47h2v2h-2zM75.18,475.47h2v2h-2zM79.63,475.47h2v2h-2zM84.07,475.47h2v2h-2zM88.51,475.47h2v2h-2zM164.06,475.47h2v2h-2zM168.51,475.47h2v2h-2zM172.95,475.47h2v2h-2zM61.85,479.12h2v2h-2zM66.29,479.12h2v2h-2zM70.74,479.12h2v2h-2zM75.18,479.12h2v2h-2zM79.63,479.12h2v2h-2zM84.07,479.12h2v2h-2zM168.51,479.12h2v2h-2zM172.95,479.12h2v2h-2zM61.85,482.76h2v2h-2zM66.29,482.76h2v2h-2zM155.17,482.76h2v2h-2zM159.62,482.76h2v2h-2zM164.06,482.76h2v2h-2zM168.51,482.76h2v2h-2zM172.95,482.76h2v2h-2zM61.85,486.4h2v2h-2zM66.29,486.4h2v2h-2zM137.4,486.4h2v2h-2zM141.84,486.4h2v2h-2zM146.29,486.4h2v2h-2zM150.73,486.4h2v2h-2zM155.17,486.4h2v2h-2zM159.62,486.4h2v2h-2zM164.06,486.4h2v2h-2zM168.51,486.4h2v2h-2zM172.95,486.4h2v2h-2zM61.85,490.05h2v2h-2zM66.29,490.05h2v2h-2zM70.74,490.05h2v2h-2zM75.18,490.05h2v2h-2zM79.63,490.05h2v2h-2zM146.29,490.05h2v2h-2zM150.73,490.05h2v2h-2zM155.17,490.05h2v2h-2zM159.62,490.05h2v2h-2zM164.06,490.05h2v2h-2zM168.51,490.05h2v2h-2zM172.95,490.05h2v2h-2zM61.85,493.69h2v2h-2zM66.29,493.69h2v2h-2zM70.74,493.69h2v2h-2zM75.18,493.69h2v2h-2zM79.63,493.69h2v2h-2zM84.07,493.69h2v2h-2zM146.29,493.69h2v2h-2zM150.73,493.69h2v2h-2zM155.17,493.69h2v2h-2zM159.62,493.69h2v2h-2zM164.06,493.69h2v2h-2zM168.51,493.69h2v2h-2zM172.95,493.69h2v2h-2zM61.85,497.34h2v2h-2zM66.29,497.34h2v2h-2zM70.74,497.34h2v2h-2zM75.18,497.34h2v2h-2zM150.73,497.34h2v2h-2zM155.17,497.34h2v2h-2zM159.62,497.34h2v2h-2zM164.06,497.34h2v2h-2zM168.51,497.34h2v2h-2zM172.95,497.34h2v2h-2zM61.85,500.99h2v2h-2zM66.29,500.99h2v2h-2zM110.73,500.99h2v2h-2zM115.18,500.99h2v2h-2zM119.62,500.99h2v2h-2zM124.07,500.99h2v2h-2zM128.51,500.99h2v2h-2zM132.95,500.99h2v2h-2zM137.4,500.99h2v2h-2zM141.84,500.99h2v2h-2zM146.29,500.99h2v2h-2zM150.73,500.99h2v2h-2zM155.17,500.99h2v2h-2zM159.62,500.99h2v2h-2zM164.06,500.99h2v2h-2zM168.51,500.99h2v2h-2zM172.95,500.99h2v2h-2zM61.85,504.63h2v2h-2zM66.29,504.63h2v2h-2zM106.29,504.63h2v2h-2zM110.73,504.63h2v2h-2zM115.18,504.63h2v2h-2zM119.62,504.63h2v2h-2zM124.07,504.63h2v2h-2zM128.51,504.63h2v2h-2zM132.95,504.63h2v2h-2zM137.4,504.63h2v2h-2zM141.84,504.63h2v2h-2zM146.29,504.63h2v2h-2zM150.73,504.63h2v2h-2zM155.17,504.63h2v2h-2zM159.62,504.63h2v2h-2zM164.06,504.63h2v2h-2zM168.51,504.63h2v2h-2zM172.95,504.63h2v2h-2zM61.85,508.27h2v2h-2zM66.29,508.27h2v2h-2zM70.74,508.27h2v2h-2zM106.29,508.27h2v2h-2zM110.73,508.27h2v2h-2zM115.18,508.27h2v2h-2zM119.62,508.27h2v2h-2zM124.07,508.27h2v2h-2zM128.51,508.27h2v2h-2zM132.95,508.27h2v2h-2zM137.4,508.27h2v2h-2zM141.84,508.27h2v2h-2zM146.29,508.27h2v2h-2zM150.73,508.27h2v2h-2zM155.17,508.27h2v2h-2zM159.62,508.27h2v2h-2zM164.06,508.27h2v2h-2zM168.51,508.27h2v2h-2zM172.95,508.27h2v2h-2zM61.85,511.92h2v2h-2zM66.29,511.92h2v2h-2zM70.74,511.92h2v2h-2zM110.73,511.92h2v2h-2zM115.18,511.92h2v2h-2zM119.62,511.92h2v2h-2zM124.07,511.92h2v2h-2zM128.51,511.92h2v2h-2zM132.95,511.92h2v2h-2zM137.4,511.92h2v2h-2zM141.84,511.92h2v2h-2zM146.29,511.92h2v2h-2zM150.73,511.92h2v2h-2zM155.17,511.92h2v2h-2zM159.62,511.92h2v2h-2zM164.06,511.92h2v2h-2zM168.51,511.92h2v2h-2zM172.95,511.92h2v2h-2zM61.85,515.57h2v2h-2zM66.29,515.57h2v2h-2zM115.18,515.57h2v2h-2zM119.62,515.57h2v2h-2zM124.07,515.57h2v2h-2zM128.51,515.57h2v2h-2zM132.95,515.57h2v2h-2zM137.4,515.57h2v2h-2zM141.84,515.57h2v2h-2zM146.29,515.57h2v2h-2zM150.73,515.57h2v2h-2zM155.17,515.57h2v2h-2zM159.62,515.57h2v2h-2zM164.06,515.57h2v2h-2zM168.51,515.57h2v2h-2zM172.95,515.57h2v2h-2zM61.85,519.21h2v2h-2zM66.29,519.21h2v2h-2zM70.74,519.21h2v2h-2zM75.18,519.21h2v2h-2zM79.63,519.21h2v2h-2zM110.73,519.21h2v2h-2zM115.18,519.21h2v2h-2zM119.62,519.21h2v2h-2zM124.07,519.21h2v2h-2zM128.51,519.21h2v2h-2zM132.95,519.21h2v2h-2zM137.4,519.21h2v2h-2zM141.84,519.21h2v2h-2zM146.29,519.21h2v2h-2zM150.73,519.21h2v2h-2zM155.17,519.21h2v2h-2zM159.62,519.21h2v2h-2zM164.06,519.21h2v2h-2zM168.51,519.21h2v2h-2zM172.95,519.21h2v2h-2zM61.85,522.86h2v2h-2zM66.29,522.86h2v2h-2zM70.74,522.86h2v2h-2zM75.18,522.86h2v2h-2zM79.63,522.86h2v2h-2zM115.18,522.86h2v2h-2zM119.62,522.86h2v2h-2zM124.07,522.86h2v2h-2zM128.51,522.86h2v2h-2zM132.95,522.86h2v2h-2zM137.4,522.86h2v2h-2zM141.84,522.86h2v2h-2zM146.29,522.86h2v2h-2zM150.73,522.86h2v2h-2zM155.17,522.86h2v2h-2zM159.62,522.86h2v2h-2zM164.06,522.86h2v2h-2zM168.51,522.86h2v2h-2zM172.95,522.86h2v2h-2zM61.85,526.5h2v2h-2zM66.29,526.5h2v2h-2zM70.74,526.5h2v2h-2zM75.18,526.5h2v2h-2zM79.63,526.5h2v2h-2zM84.07,526.5h2v2h-2zM115.18,526.5h2v2h-2zM119.62,526.5h2v2h-2zM124.07,526.5h2v2h-2zM128.51,526.5h2v2h-2zM132.95,526.5h2v2h-2zM137.4,526.5h2v2h-2zM141.84,526.5h2v2h-2zM146.29,526.5h2v2h-2zM150.73,526.5h2v2h-2zM155.17,526.5h2v2h-2zM159.62,526.5h2v2h-2zM164.06,526.5h2v2h-2zM168.51,526.5h2v2h-2zM172.95,526.5h2v2h-2zM61.85,530.14h2v2h-2zM66.29,530.14h2v2h-2zM70.74,530.14h2v2h-2zM97.4,530.14h2v2h-2zM101.85,530.14h2v2h-2zM106.29,530.14h2v2h-2zM110.73,530.14h2v2h-2zM115.18,530.14h2v2h-2zM119.62,530.14h2v2h-2zM124.07,530.14h2v2h-2zM128.51,530.14h2v2h-2zM132.95,530.14h2v2h-2zM137.4,530.14h2v2h-2zM141.84,530.14h2v2h-2zM146.29,530.14h2v2h-2zM150.73,530.14h2v2h-2zM155.17,530.14h2v2h-2zM159.62,530.14h2v2h-2zM164.06,530.14h2v2h-2zM168.51,530.14h2v2h-2zM172.95,530.14h2v2h-2zM61.85,533.79h2v2h-2zM66.29,533.79h2v2h-2zM97.4,533.79h2v2h-2zM101.85,533.79h2v2h-2zM106.29,533.79h2v2h-2zM110.73,533.79h2v2h-2zM115.18,533.79h2v2h-2zM119.62,533.79h2v2h-2zM124.07,533.79h2v2h-2zM128.51,533.79h2v2h-2zM132.95,533.79h2v2h-2zM137.4,533.79h2v2h-2zM141.84,533.79h2v2h-2zM146.29,533.79h2v2h-2zM150.73,533.79h2v2h-2zM155.17,533.79h2v2h-2zM159.62,533.79h2v2h-2zM164.06,533.79h2v2h-2zM168.51,533.79h2v2h-2zM172.95,533.79h2v2h-2zM61.85,537.43h2v2h-2zM66.29,537.43h2v2h-2zM70.74,537.43h2v2h-2zM101.85,537.43h2v2h-2zM106.29,537.43h2v2h-2zM110.73,537.43h2v2h-2zM115.18,537.43h2v2h-2zM119.62,537.43h2v2h-2zM124.07,537.43h2v2h-2zM128.51,537.43h2v2h-2zM132.95,537.43h2v2h-2zM137.4,537.43h2v2h-2zM141.84,537.43h2v2h-2zM146.29,537.43h2v2h-2zM150.73,537.43h2v2h-2zM155.17,537.43h2v2h-2zM159.62,537.43h2v2h-2zM164.06,537.43h2v2h-2zM168.51,537.43h2v2h-2zM172.95,537.43h2v2h-2zM61.85,541.08h2v2h-2zM66.29,541.08h2v2h-2zM70.74,541.08h2v2h-2zM75.18,541.08h2v2h-2zM79.63,541.08h2v2h-2zM101.85,541.08h2v2h-2zM106.29,541.08h2v2h-2zM110.73,541.08h2v2h-2zM115.18,541.08h2v2h-2zM119.62,541.08h2v2h-2zM124.07,541.08h2v2h-2zM128.51,541.08h2v2h-2zM132.95,541.08h2v2h-2zM137.4,541.08h2v2h-2zM141.84,541.08h2v2h-2zM146.29,541.08h2v2h-2zM150.73,541.08h2v2h-2zM155.17,541.08h2v2h-2zM159.62,541.08h2v2h-2zM164.06,541.08h2v2h-2zM168.51,541.08h2v2h-2zM172.95,541.08h2v2h-2zM61.85,544.73h2v2h-2zM66.29,544.73h2v2h-2zM70.74,544.73h2v2h-2zM75.18,544.73h2v2h-2zM101.85,544.73h2v2h-2zM106.29,544.73h2v2h-2zM110.73,544.73h2v2h-2zM115.18,544.73h2v2h-2zM119.62,544.73h2v2h-2zM124.07,544.73h2v2h-2zM128.51,544.73h2v2h-2zM132.95,544.73h2v2h-2zM137.4,544.73h2v2h-2zM141.84,544.73h2v2h-2zM146.29,544.73h2v2h-2zM150.73,544.73h2v2h-2zM155.17,544.73h2v2h-2zM159.62,544.73h2v2h-2zM164.06,544.73h2v2h-2zM168.51,544.73h2v2h-2zM172.95,544.73h2v2h-2zM61.85,548.37h2v2h-2zM66.29,548.37h2v2h-2zM70.74,548.37h2v2h-2zM75.18,548.37h2v2h-2zM97.4,548.37h2v2h-2zM101.85,548.37h2v2h-2zM106.29,548.37h2v2h-2zM110.73,548.37h2v2h-2zM115.18,548.37h2v2h-2zM119.62,548.37h2v2h-2zM124.07,548.37h2v2h-2zM128.51,548.37h2v2h-2zM132.95,548.37h2v2h-2zM137.4,548.37h2v2h-2zM141.84,548.37h2v2h-2zM146.29,548.37h2v2h-2zM150.73,548.37h2v2h-2zM155.17,548.37h2v2h-2zM159.62,548.37h2v2h-2zM164.06,548.37h2v2h-2zM168.51,548.37h2v2h-2zM172.95,548.37h2v2h-2zM61.85,552.01h2v2h-2zM66.29,552.01h2v2h-2zM70.74,552.01h2v2h-2zM75.18,552.01h2v2h-2zM101.85,552.01h2v2h-2zM106.29,552.01h2v2h-2zM110.73,552.01h2v2h-2zM115.18,552.01h2v2h-2zM119.62,552.01h2v2h-2zM124.07,552.01h2v2h-2zM128.51,552.01h2v2h-2zM132.95,552.01h2v2h-2zM137.4,552.01h2v2h-2zM141.84,552.01h2v2h-2zM146.29,552.01h2v2h-2zM150.73,552.01h2v2h-2zM155.17,552.01h2v2h-2zM159.62,552.01h2v2h-2zM164.06,552.01h2v2h-2zM168.51,552.01h2v2h-2zM172.95,552.01h2v2h-2zM61.85,555.66h2v2h-2zM66.29,555.66h2v2h-2zM70.74,555.66h2v2h-2zM75.18,555.66h2v2h-2zM128.51,555.66h2v2h-2zM132.95,555.66h2v2h-2zM137.4,555.66h2v2h-2zM141.84,555.66h2v2h-2zM146.29,555.66h2v2h-2zM150.73,555.66h2v2h-2zM155.17,555.66h2v2h-2zM159.62,555.66h2v2h-2zM164.06,555.66h2v2h-2zM168.51,555.66h2v2h-2zM172.95,555.66h2v2h-2zM61.85,559.3h2v2h-2zM66.29,559.3h2v2h-2zM70.74,559.3h2v2h-2zM75.18,559.3h2v2h-2zM128.51,559.3h2v2h-2zM132.95,559.3h2v2h-2zM137.4,559.3h2v2h-2zM141.84,559.3h2v2h-2zM146.29,559.3h2v2h-2zM150.73,559.3h2v2h-2zM155.17,559.3h2v2h-2zM159.62,559.3h2v2h-2zM164.06,559.3h2v2h-2zM168.51,559.3h2v2h-2zM172.95,559.3h2v2h-2zM61.85,562.95h2v2h-2zM66.29,562.95h2v2h-2zM70.74,562.95h2v2h-2zM75.18,562.95h2v2h-2zM79.63,562.95h2v2h-2zM84.07,562.95h2v2h-2zM88.51,562.95h2v2h-2zM92.96,562.95h2v2h-2zM97.4,562.95h2v2h-2zM101.85,562.95h2v2h-2zM124.07,562.95h2v2h-2zM128.51,562.95h2v2h-2zM132.95,562.95h2v2h-2zM137.4,562.95h2v2h-2zM141.84,562.95h2v2h-2zM146.29,562.95h2v2h-2zM150.73,562.95h2v2h-2zM155.17,562.95h2v2h-2zM159.62,562.95h2v2h-2zM164.06,562.95h2v2h-2zM168.51,562.95h2v2h-2zM172.95,562.95h2v2h-2zM61.85,566.6h2v2h-2zM66.29,566.6h2v2h-2zM70.74,566.6h2v2h-2zM75.18,566.6h2v2h-2zM79.63,566.6h2v2h-2zM84.07,566.6h2v2h-2zM88.51,566.6h2v2h-2zM92.96,566.6h2v2h-2zM97.4,566.6h2v2h-2zM101.85,566.6h2v2h-2zM119.62,566.6h2v2h-2zM124.07,566.6h2v2h-2zM128.51,566.6h2v2h-2zM132.95,566.6h2v2h-2zM137.4,566.6h2v2h-2zM141.84,566.6h2v2h-2zM146.29,566.6h2v2h-2zM150.73,566.6h2v2h-2zM155.17,566.6h2v2h-2zM159.62,566.6h2v2h-2zM164.06,566.6h2v2h-2zM168.51,566.6h2v2h-2zM172.95,566.6h2v2h-2zM61.85,570.24h2v2h-2zM66.29,570.24h2v2h-2zM70.74,570.24h2v2h-2zM75.18,570.24h2v2h-2zM79.63,570.24h2v2h-2zM84.07,570.24h2v2h-2zM88.51,570.24h2v2h-2zM92.96,570.24h2v2h-2zM97.4,570.24h2v2h-2zM101.85,570.24h2v2h-2zM115.18,570.24h2v2h-2zM119.62,570.24h2v2h-2zM124.07,570.24h2v2h-2zM128.51,570.24h2v2h-2zM132.95,570.24h2v2h-2zM137.4,570.24h2v2h-2zM141.84,570.24h2v2h-2zM146.29,570.24h2v2h-2zM150.73,570.24h2v2h-2zM155.17,570.24h2v2h-2zM159.62,570.24h2v2h-2zM164.06,570.24h2v2h-2zM168.51,570.24h2v2h-2zM172.95,570.24h2v2h-2zM61.85,573.88h2v2h-2zM66.29,573.88h2v2h-2zM70.74,573.88h2v2h-2zM75.18,573.88h2v2h-2zM79.63,573.88h2v2h-2zM84.07,573.88h2v2h-2zM88.51,573.88h2v2h-2zM92.96,573.88h2v2h-2zM97.4,573.88h2v2h-2zM110.73,573.88h2v2h-2zM115.18,573.88h2v2h-2zM119.62,573.88h2v2h-2zM124.07,573.88h2v2h-2zM128.51,573.88h2v2h-2zM132.95,573.88h2v2h-2zM137.4,573.88h2v2h-2zM141.84,573.88h2v2h-2zM146.29,573.88h2v2h-2zM150.73,573.88h2v2h-2zM155.17,573.88h2v2h-2zM159.62,573.88h2v2h-2zM164.06,573.88h2v2h-2zM168.51,573.88h2v2h-2zM172.95,573.88h2v2h-2zM61.85,577.53h2v2h-2zM66.29,577.53h2v2h-2zM70.74,577.53h2v2h-2zM75.18,577.53h2v2h-2zM79.63,577.53h2v2h-2zM84.07,577.53h2v2h-2zM88.51,577.53h2v2h-2zM92.96,577.53h2v2h-2zM115.18,577.53h2v2h-2zM119.62,577.53h2v2h-2zM124.07,577.53h2v2h-2zM128.51,577.53h2v2h-2zM132.95,577.53h2v2h-2zM137.4,577.53h2v2h-2zM141.84,577.53h2v2h-2zM146.29,577.53h2v2h-2zM150.73,577.53h2v2h-2zM155.17,577.53h2v2h-2zM159.62,577.53h2v2h-2zM164.06,577.53h2v2h-2zM168.51,577.53h2v2h-2zM172.95,577.53h2v2h-2zM61.85,581.17h2v2h-2zM66.29,581.17h2v2h-2zM70.74,581.17h2v2h-2zM75.18,581.17h2v2h-2zM79.63,581.17h2v2h-2zM84.07,581.17h2v2h-2zM88.51,581.17h2v2h-2zM92.96,581.17h2v2h-2zM115.18,581.17h2v2h-2zM119.62,581.17h2v2h-2zM124.07,581.17h2v2h-2zM128.51,581.17h2v2h-2zM132.95,581.17h2v2h-2zM137.4,581.17h2v2h-2zM141.84,581.17h2v2h-2zM146.29,581.17h2v2h-2zM150.73,581.17h2v2h-2zM155.17,581.17h2v2h-2zM159.62,581.17h2v2h-2zM164.06,581.17h2v2h-2zM168.51,581.17h2v2h-2zM172.95,581.17h2v2h-2zM61.85,584.82h2v2h-2zM66.29,584.82h2v2h-2zM70.74,584.82h2v2h-2zM75.18,584.82h2v2h-2zM79.63,584.82h2v2h-2zM84.07,584.82h2v2h-2zM88.51,584.82h2v2h-2zM92.96,584.82h2v2h-2zM97.4,584.82h2v2h-2zM115.18,584.82h2v2h-2zM119.62,584.82h2v2h-2zM124.07,584.82h2v2h-2zM128.51,584.82h2v2h-2zM132.95,584.82h2v2h-2zM137.4,584.82h2v2h-2zM141.84,584.82h2v2h-2zM146.29,584.82h2v2h-2zM150.73,584.82h2v2h-2zM155.17,584.82h2v2h-2zM159.62,584.82h2v2h-2zM164.06,584.82h2v2h-2zM168.51,584.82h2v2h-2zM172.95,584.82h2v2h-2zM61.85,588.47h2v2h-2zM66.29,588.47h2v2h-2zM70.74,588.47h2v2h-2zM75.18,588.47h2v2h-2zM79.63,588.47h2v2h-2zM84.07,588.47h2v2h-2zM88.51,588.47h2v2h-2zM119.62,588.47h2v2h-2zM124.07,588.47h2v2h-2zM128.51,588.47h2v2h-2zM132.95,588.47h2v2h-2zM137.4,588.47h2v2h-2zM141.84,588.47h2v2h-2zM146.29,588.47h2v2h-2zM150.73,588.47h2v2h-2zM155.17,588.47h2v2h-2zM159.62,588.47h2v2h-2zM164.06,588.47h2v2h-2zM168.51,588.47h2v2h-2zM172.95,588.47h2v2h-2zM61.85,592.11h2v2h-2zM66.29,592.11h2v2h-2zM70.74,592.11h2v2h-2zM75.18,592.11h2v2h-2zM79.63,592.11h2v2h-2zM84.07,592.11h2v2h-2zM119.62,592.11h2v2h-2zM124.07,592.11h2v2h-2zM128.51,592.11h2v2h-2zM132.95,592.11h2v2h-2zM137.4,592.11h2v2h-2zM141.84,592.11h2v2h-2zM146.29,592.11h2v2h-2zM150.73,592.11h2v2h-2zM155.17,592.11h2v2h-2zM159.62,592.11h2v2h-2zM164.06,592.11h2v2h-2zM168.51,592.11h2v2h-2zM172.95,592.11h2v2h-2zM61.85,595.75h2v2h-2zM66.29,595.75h2v2h-2zM70.74,595.75h2v2h-2zM75.18,595.75h2v2h-2zM79.63,595.75h2v2h-2zM84.07,595.75h2v2h-2zM115.18,595.75h2v2h-2zM119.62,595.75h2v2h-2zM124.07,595.75h2v2h-2zM128.51,595.75h2v2h-2zM132.95,595.75h2v2h-2zM137.4,595.75h2v2h-2zM141.84,595.75h2v2h-2zM146.29,595.75h2v2h-2zM150.73,595.75h2v2h-2zM155.17,595.75h2v2h-2zM159.62,595.75h2v2h-2zM164.06,595.75h2v2h-2zM168.51,595.75h2v2h-2zM172.95,595.75h2v2h-2zM61.85,599.4h2v2h-2zM66.29,599.4h2v2h-2zM70.74,599.4h2v2h-2zM75.18,599.4h2v2h-2zM79.63,599.4h2v2h-2zM84.07,599.4h2v2h-2zM115.18,599.4h2v2h-2zM119.62,599.4h2v2h-2zM124.07,599.4h2v2h-2zM128.51,599.4h2v2h-2zM132.95,599.4h2v2h-2zM137.4,599.4h2v2h-2zM141.84,599.4h2v2h-2zM146.29,599.4h2v2h-2zM150.73,599.4h2v2h-2zM155.17,599.4h2v2h-2zM159.62,599.4h2v2h-2zM164.06,599.4h2v2h-2zM168.51,599.4h2v2h-2zM172.95,599.4h2v2h-2zM61.85,603.04h2v2h-2zM66.29,603.04h2v2h-2zM70.74,603.04h2v2h-2zM75.18,603.04h2v2h-2zM79.63,603.04h2v2h-2zM84.07,603.04h2v2h-2zM119.62,603.04h2v2h-2zM124.07,603.04h2v2h-2zM128.51,603.04h2v2h-2zM132.95,603.04h2v2h-2zM137.4,603.04h2v2h-2zM141.84,603.04h2v2h-2zM146.29,603.04h2v2h-2zM150.73,603.04h2v2h-2zM155.17,603.04h2v2h-2zM159.62,603.04h2v2h-2zM164.06,603.04h2v2h-2zM168.51,603.04h2v2h-2zM172.95,603.04h2v2h-2zM61.85,606.69h2v2h-2zM66.29,606.69h2v2h-2zM70.74,606.69h2v2h-2zM75.18,606.69h2v2h-2zM79.63,606.69h2v2h-2zM84.07,606.69h2v2h-2zM124.07,606.69h2v2h-2zM128.51,606.69h2v2h-2zM132.95,606.69h2v2h-2zM137.4,606.69h2v2h-2zM141.84,606.69h2v2h-2zM146.29,606.69h2v2h-2zM150.73,606.69h2v2h-2zM155.17,606.69h2v2h-2zM159.62,606.69h2v2h-2zM164.06,606.69h2v2h-2zM168.51,606.69h2v2h-2zM172.95,606.69h2v2h-2zM61.85,610.34h2v2h-2zM66.29,610.34h2v2h-2zM70.74,610.34h2v2h-2zM75.18,610.34h2v2h-2zM79.63,610.34h2v2h-2zM84.07,610.34h2v2h-2zM88.51,610.34h2v2h-2zM97.4,610.34h2v2h-2zM101.85,610.34h2v2h-2zM106.29,610.34h2v2h-2zM110.73,610.34h2v2h-2zM115.18,610.34h2v2h-2zM119.62,610.34h2v2h-2zM124.07,610.34h2v2h-2zM128.51,610.34h2v2h-2zM132.95,610.34h2v2h-2zM137.4,610.34h2v2h-2zM141.84,610.34h2v2h-2zM146.29,610.34h2v2h-2zM150.73,610.34h2v2h-2zM155.17,610.34h2v2h-2zM159.62,610.34h2v2h-2zM164.06,610.34h2v2h-2zM168.51,610.34h2v2h-2zM172.95,610.34h2v2h-2zM61.85,613.98h2v2h-2zM66.29,613.98h2v2h-2zM70.74,613.98h2v2h-2zM75.18,613.98h2v2h-2zM79.63,613.98h2v2h-2zM84.07,613.98h2v2h-2zM97.4,613.98h2v2h-2zM101.85,613.98h2v2h-2zM106.29,613.98h2v2h-2zM110.73,613.98h2v2h-2zM115.18,613.98h2v2h-2zM119.62,613.98h2v2h-2zM124.07,613.98h2v2h-2zM128.51,613.98h2v2h-2zM132.95,613.98h2v2h-2zM137.4,613.98h2v2h-2zM141.84,613.98h2v2h-2zM146.29,613.98h2v2h-2zM150.73,613.98h2v2h-2zM155.17,613.98h2v2h-2zM159.62,613.98h2v2h-2zM164.06,613.98h2v2h-2zM168.51,613.98h2v2h-2zM172.95,613.98h2v2h-2zM61.85,617.62h2v2h-2zM66.29,617.62h2v2h-2zM70.74,617.62h2v2h-2zM75.18,617.62h2v2h-2zM79.63,617.62h2v2h-2zM84.07,617.62h2v2h-2zM97.4,617.62h2v2h-2zM101.85,617.62h2v2h-2zM106.29,617.62h2v2h-2zM110.73,617.62h2v2h-2zM115.18,617.62h2v2h-2zM119.62,617.62h2v2h-2zM124.07,617.62h2v2h-2zM128.51,617.62h2v2h-2zM132.95,617.62h2v2h-2zM137.4,617.62h2v2h-2zM141.84,617.62h2v2h-2zM146.29,617.62h2v2h-2zM150.73,617.62h2v2h-2zM155.17,617.62h2v2h-2zM159.62,617.62h2v2h-2zM164.06,617.62h2v2h-2zM168.51,617.62h2v2h-2zM172.95,617.62h2v2h-2zM61.85,621.27h2v2h-2zM66.29,621.27h2v2h-2zM70.74,621.27h2v2h-2zM75.18,621.27h2v2h-2zM79.63,621.27h2v2h-2zM84.07,621.27h2v2h-2zM88.51,621.27h2v2h-2zM97.4,621.27h2v2h-2zM101.85,621.27h2v2h-2zM106.29,621.27h2v2h-2zM110.73,621.27h2v2h-2zM115.18,621.27h2v2h-2zM119.62,621.27h2v2h-2zM124.07,621.27h2v2h-2zM128.51,621.27h2v2h-2zM132.95,621.27h2v2h-2zM137.4,621.27h2v2h-2zM141.84,621.27h2v2h-2zM146.29,621.27h2v2h-2zM150.73,621.27h2v2h-2zM155.17,621.27h2v2h-2zM159.62,621.27h2v2h-2zM164.06,621.27h2v2h-2zM168.51,621.27h2v2h-2zM172.95,621.27h2v2h-2zM61.85,624.91h2v2h-2zM66.29,624.91h2v2h-2zM70.74,624.91h2v2h-2zM75.18,624.91h2v2h-2zM79.63,624.91h2v2h-2zM84.07,624.91h2v2h-2zM88.51,624.91h2v2h-2zM101.85,624.91h2v2h-2zM106.29,624.91h2v2h-2zM110.73,624.91h2v2h-2zM115.18,624.91h2v2h-2zM119.62,624.91h2v2h-2zM124.07,624.91h2v2h-2zM128.51,624.91h2v2h-2zM132.95,624.91h2v2h-2zM137.4,624.91h2v2h-2zM141.84,624.91h2v2h-2zM146.29,624.91h2v2h-2zM150.73,624.91h2v2h-2zM155.17,624.91h2v2h-2zM159.62,624.91h2v2h-2zM164.06,624.91h2v2h-2zM168.51,624.91h2v2h-2zM172.95,624.91h2v2h-2zM61.85,628.56h2v2h-2zM66.29,628.56h2v2h-2zM70.74,628.56h2v2h-2zM75.18,628.56h2v2h-2zM79.63,628.56h2v2h-2zM84.07,628.56h2v2h-2zM88.51,628.56h2v2h-2zM106.29,628.56h2v2h-2zM110.73,628.56h2v2h-2zM115.18,628.56h2v2h-2zM119.62,628.56h2v2h-2zM124.07,628.56h2v2h-2zM128.51,628.56h2v2h-2zM132.95,628.56h2v2h-2zM137.4,628.56h2v2h-2zM141.84,628.56h2v2h-2zM146.29,628.56h2v2h-2zM150.73,628.56h2v2h-2zM155.17,628.56h2v2h-2zM159.62,628.56h2v2h-2zM164.06,628.56h2v2h-2zM168.51,628.56h2v2h-2zM172.95,628.56h2v2h-2zM61.85,632.2h2v2h-2zM66.29,632.2h2v2h-2zM70.74,632.2h2v2h-2zM75.18,632.2h2v2h-2zM79.63,632.2h2v2h-2zM84.07,632.2h2v2h-2zM88.51,632.2h2v2h-2zM106.29,632.2h2v2h-2zM110.73,632.2h2v2h-2zM115.18,632.2h2v2h-2zM119.62,632.2h2v2h-2zM124.07,632.2h2v2h-2zM128.51,632.2h2v2h-2zM132.95,632.2h2v2h-2zM137.4,632.2h2v2h-2zM141.84,632.2h2v2h-2zM146.29,632.2h2v2h-2zM150.73,632.2h2v2h-2zM155.17,632.2h2v2h-2zM159.62,632.2h2v2h-2zM164.06,632.2h2v2h-2zM168.51,632.2h2v2h-2zM172.95,632.2h2v2h-2zM61.85,635.85h2v2h-2zM66.29,635.85h2v2h-2zM70.74,635.85h2v2h-2zM75.18,635.85h2v2h-2zM79.63,635.85h2v2h-2zM84.07,635.85h2v2h-2zM88.51,635.85h2v2h-2zM92.96,635.85h2v2h-2zM97.4,635.85h2v2h-2zM106.29,635.85h2v2h-2zM110.73,635.85h2v2h-2zM115.18,635.85h2v2h-2zM119.62,635.85h2v2h-2zM124.07,635.85h2v2h-2zM128.51,635.85h2v2h-2zM132.95,635.85h2v2h-2zM137.4,635.85h2v2h-2zM141.84,635.85h2v2h-2zM146.29,635.85h2v2h-2zM150.73,635.85h2v2h-2zM155.17,635.85h2v2h-2zM159.62,635.85h2v2h-2zM164.06,635.85h2v2h-2zM168.51,635.85h2v2h-2zM172.95,635.85h2v2h-2zM61.85,639.5h2v2h-2zM66.29,639.5h2v2h-2zM70.74,639.5h2v2h-2zM75.18,639.5h2v2h-2zM79.63,639.5h2v2h-2zM84.07,639.5h2v2h-2zM88.51,639.5h2v2h-2zM92.96,639.5h2v2h-2zM106.29,639.5h2v2h-2zM110.73,639.5h2v2h-2zM115.18,639.5h2v2h-2zM119.62,639.5h2v2h-2zM124.07,639.5h2v2h-2zM128.51,639.5h2v2h-2zM132.95,639.5h2v2h-2zM137.4,639.5h2v2h-2zM141.84,639.5h2v2h-2zM146.29,639.5h2v2h-2zM150.73,639.5h2v2h-2zM155.17,639.5h2v2h-2zM159.62,639.5h2v2h-2zM164.06,639.5h2v2h-2zM168.51,639.5h2v2h-2zM172.95,639.5h2v2h-2z" fill="#333"/>
<path d="M175.6,381.7H196.2M175.6,385.34H196.2M196.2,381.7V385.34M175.6,388.99H196.2M175.6,392.63H196.2M196.2,388.99V392.63M196.2,383.52H203.7M196.2,390.81H203.7M203.7,383.52V390.81M203.7,387.17H210.3M175.6,396.28H210.3M210.3,387.17V396.28M175.6,399.93H196.2M175.6,403.57H196.2M196.2,399.93V403.57M175.6,407.21H196.2M175.6,410.86H196.2M196.2,407.21V410.86M196.2,401.75H203.7M196.2,409.04H203.7M203.7,401.75V409.04M210.3,391.72H216M203.7,405.39H216M216,391.72V405.39M175.6,414.5H196.2M175.6,418.15H196.2M196.2,414.5V418.15M196.2,416.33H203.7M175.6,421.79H203.7M203.7,416.33V421.79M175.6,425.44H196.2M175.6,429.08H196.2M196.2,425.44V429.08M175.6,432.73H196.2M175.6,436.38H196.2M196.2,432.73V436.38M196.2,427.26H203.7M196.2,434.55H203.7M203.7,427.26V434.55M203.7,419.06H216M203.7,430.91H216M216,419.06V430.91M216,398.56H229.3M216,424.98H229.3M229.3,398.56V424.98M175.6,440.02H196.2M175.6,443.66H196.2M196.2,440.02V443.66M196.2,441.84H203.7M175.6,447.31H203.7M203.7,441.84V447.31M175.6,450.95H196.2M175.6,454.6H196.2M196.2,450.95V454.6M175.6,458.25H196.2M175.6,461.89H196.2M196.2,458.25V461.89M196.2,452.78H207.3M196.2,460.07H207.3M207.3,452.78V460.07M203.7,444.58H210.3M207.3,456.42H210.3M210.3,444.58V456.42M175.6,465.53H196.2M175.6,469.18H196.2M196.2,465.53V469.18M210.3,450.5H220.5M196.2,467.36H220.5M220.5,450.5V467.36M175.6,472.82H196.2M175.6,476.47H196.2M196.2,472.82V476.47M196.2,474.65H203.7M175.6,480.12H203.7M203.7,474.65V480.12M220.5,458.93H225.2M203.7,477.38H225.2M225.2,458.93V477.38M229.3,411.77H245.7M225.2,468.15H245.7M245.7,411.77V468.15M175.6,483.76H216M175.6,487.4H216M216,483.76V487.4M175.6,491.05H196.2M175.6,494.69H196.2M196.2,491.05V494.69M196.2,492.87H210.3M175.6,498.34H210.3M210.3,492.87V498.34M216,485.58H225.2M210.3,495.61H225.2M225.2,485.58V495.61M245.7,439.96H253.4M225.2,490.59H253.4M253.4,439.96V490.59M175.6,501.99H196.2M175.6,505.63H196.2M196.2,501.99V505.63M175.6,509.27H196.2M175.6,512.92H196.2M196.2,509.27V512.92M196.2,503.81H203.7M196.2,511.1H203.7M203.7,503.81V511.1M203.7,507.45H210.3M175.6,516.57H210.3M210.3,507.45V516.57M175.6,520.21H196.2M175.6,523.86H196.2M196.2,520.21V523.86M196.2,522.03H203.7M175.6,527.5H203.7M203.7,522.03V527.5M210.3,512.01H220.5M203.7,524.77H220.5M220.5,512.01V524.77M175.6,531.14H196.2M175.6,534.79H196.2M196.2,531.14V534.79M196.2,532.97H203.7M175.6,538.43H203.7M203.7,532.97V538.43M175.6,542.08H196.2M175.6,545.73H196.2M196.2,542.08V545.73M175.6,549.37H196.2M175.6,553.01H196.2M196.2,549.37V553.01M196.2,543.9H203.7M196.2,551.19H203.7M203.7,543.9V551.19M203.7,535.7H216M203.7,547.55H216M216,535.7V547.55M220.5,518.39H229.3M216,541.62H229.3M229.3,518.39V541.62M175.6,556.66H196.2M175.6,560.3H196.2M196.2,556.66V560.3M229.3,530.01H236.5M196.2,558.48H236.5M236.5,530.01V558.48M175.6,567.6H196.2M175.6,571.24H196.2M196.2,567.6V571.24M175.6,563.95H203.7M196.2,569.42H203.7M203.7,563.95V569.42M203.7,566.68H210.3M175.6,574.88H210.3M210.3,566.68V574.88M175.6,578.53H196.2M175.6,582.17H196.2M196.2,578.53V582.17M175.6,585.82H196.2M175.6,589.47H196.2M196.2,585.82V589.47M196.2,580.35H203.7M196.2,587.64H203.7M203.7,580.35V587.64M210.3,570.78H216M203.7,584H216M216,570.78V584M175.6,593.11H196.2M175.6,596.75H196.2M196.2,593.11V596.75M175.6,600.4H196.2M175.6,604.04H196.2M196.2,600.4V604.04M196.2,594.93H203.7M196.2,602.22H203.7M203.7,594.93V602.22M203.7,598.58H210.3M175.6,607.69H210.3M210.3,598.58V607.69M216,577.39H225.2M210.3,603.13H225.2M225.2,577.39V603.13M175.6,611.34H203.7M175.6,614.98H203.7M203.7,611.34V614.98M175.6,618.62H196.2M175.6,622.27H196.2M196.2,618.62V622.27M196.2,620.45H203.7M175.6,625.91H203.7M203.7,620.45V625.91M203.7,613.16H210.3M203.7,623.18H210.3M210.3,613.16V623.18M175.6,629.56H196.2M175.6,633.2H196.2M196.2,629.56V633.2M175.6,636.85H196.2M175.6,640.5H196.2M196.2,636.85V640.5M196.2,631.38H210.3M196.2,638.67H210.3M210.3,631.38V638.67M210.3,618.17H220.5M210.3,635.03H220.5M220.5,618.17V635.03M225.2,590.26H232.4M220.5,626.6H232.4M232.4,590.26V626.6M236.5,544.24H245.7M232.4,608.43H245.7M245.7,544.24V608.43M253.4,465.28H270.2M245.7,576.34H270.2M270.2,465.28V576.34" fill="none" stroke="#2a2a2a" stroke-width="0.65"/>
<path d="M7.6,645.2V643.2H62.5V645.2M21.3,643.2V645.2M35,643.2V645.2M48.7,643.2V645.2" fill="none" stroke="#bbb" stroke-width="0.5"/>
<text transform="translate(11.6,646.9) rotate(-90)" font-size="7.4" text-anchor="end" fill="#000" stroke="#000" stroke-width="0.1">2.1e+01</text>
<text transform="translate(23.9,646.9) rotate(-90)" font-size="7.4" text-anchor="end" fill="#000" stroke="#000" stroke-width="0.1">9.3e+00</text>
<text transform="translate(37.6,646.9) rotate(-90)" font-size="7.4" text-anchor="end" fill="#000" stroke="#000" stroke-width="0.1">3.7e+00</text>
<text transform="translate(51.3,646.9) rotate(-90)" font-size="7.4" text-anchor="end" fill="#000" stroke="#000" stroke-width="0.1">1.2e+00</text>
<text transform="translate(65.1,646.9) rotate(-90)" font-size="7.4" text-anchor="end" fill="#000" stroke="#000" stroke-width="0.1">0.0e+00</text>
<text x="35" y="684.2" font-size="7.3" text-anchor="middle" fill="#000" stroke="#000" stroke-width="0.1" >UNS</text>
</g>
<g id="panel-c">
<text x="291.5" y="7.4" font-size="12" text-anchor="start" fill="#000" stroke="#000" stroke-width="0" font-weight="bold">c</text>
<text x="453.6" y="16.5" font-size="7.6" text-anchor="middle" fill="#000" stroke="#000" stroke-width="0.1" >miR-184</text>
<text x="453.6" y="22.9" font-size="7.6" text-anchor="middle" fill="#000" stroke="#000" stroke-width="0.1" >seed</text>
<text x="324.5" y="34.5" font-size="7.65" text-anchor="end" fill="#000" stroke="#000" stroke-width="0.1" >CG12880</text>
<text x="330.8" y="20.6" font-size="6.35" text-anchor="start" fill="#000" stroke="#000" stroke-width="0.1" >chr3R:23,517,915</text>
<text x="581.3" y="20.7" font-size="6.55" text-anchor="end" fill="#000" stroke="#000" stroke-width="0.1" >23,517,969</text>
<path d="M332.1,22.3V25.9" stroke="#888" stroke-width="0.5" fill="none"/>
<path d="M331.1,25h2l-1,2.4z" fill="#111"/>
<path d="M579.8,21.6V25.9" stroke="#222" stroke-width="0.5" fill="none"/>
<path d="M578.8,25h2l-1,2.4z" fill="#111"/>
<text x="332.89 337.47 342.05 346.62 351.2 355.78 360.36 364.94 369.51 374.09 378.67 383.25 387.83 392.41 396.98 401.56 406.14 410.72 415.3 419.87 424.45 429.03 433.61 438.19 442.77 447.34 451.92 456.5 461.08 465.66 470.23 474.81 479.39 483.97 488.55 493.13 497.7 502.28 506.86 511.44 516.02 520.59 525.17 529.75 534.33 538.91 543.49 548.06 552.64 557.22 561.8 566.38 570.95 575.53 580.11" y="34.5" font-size="7.1" text-anchor="middle" stroke-width="0.06"><tspan fill="#000" stroke="#000">ACGAAGGGGAGCTTCTC</tspan><tspan fill="#17a596" stroke="#17a596">CCC</tspan><tspan fill="#000" stroke="#000">TCTT</tspan><tspan fill="#1b75bc" stroke="#1b75bc">CCG</tspan><tspan fill="#000" stroke="#000">TCCAGTTTCCACTTGGAATACCCAATCC</tspan></text>
<path d="M433.2,24.3H436.6L434.9,27.5Z" fill="#17a596"/>
<path d="M467.7,24.3H471.1L469.4,27.5Z" fill="#1b75bc"/>
<text x="416.2" y="42.1" font-size="6.3" text-anchor="middle" fill="#17a596" stroke="#17a596" stroke-width="0" >PAM</text>
<text x="446.6" y="42.1" font-size="6.3" text-anchor="middle" fill="#1b75bc" stroke="#1b75bc" stroke-width="0" >PAM</text>
<rect x="422.9" y="45.1" width="91.4" height="7.2" fill="#17a596"/>
<text x="468.6" y="50.45" font-size="4.95" text-anchor="middle" fill="#fff" stroke="#fff" stroke-width="0" ><tspan font-style="italic">CG12880</tspan> miR-184 MRE sgRNA # 1</text>
<rect x="454.8" y="54.4" width="91.4" height="7.2" fill="#1b75bc"/>
<text x="500.5" y="59.75" font-size="4.95" text-anchor="middle" fill="#fff" stroke="#fff" stroke-width="0" ><tspan font-style="italic">CG12880</tspan> miR-184 MRE sgRNA # 2</text>
<text x="324.5" y="86.9" font-size="7.65" text-anchor="end" fill="#000" stroke="#000" stroke-width="0.1" >CG10217</text>
<text x="330.8" y="73" font-size="6.35" text-anchor="start" fill="#000" stroke="#000" stroke-width="0.1" >chr3R:19,586,494</text>
<text x="581.3" y="73.1" font-size="6.55" text-anchor="end" fill="#000" stroke="#000" stroke-width="0.1" >19,586,548</text>
<path d="M332.1,74.7V78.3" stroke="#888" stroke-width="0.5" fill="none"/>
<path d="M331.1,77.4h2l-1,2.4z" fill="#111"/>
<path d="M579.8,74V78.3" stroke="#222" stroke-width="0.5" fill="none"/>
<path d="M578.8,77.4h2l-1,2.4z" fill="#111"/>
<text x="332.89 337.47 342.05 346.62 351.2 355.78 360.36 364.94 369.51 374.09 378.67 383.25 387.83 392.41 396.98 401.56 406.14 410.72 415.3 419.87 424.45 429.03 433.61 438.19 442.77 447.34 451.92 456.5 461.08 465.66 470.23 474.81 479.39 483.97 488.55 493.13 497.7 502.28 506.86 511.44 516.02 520.59 525.17 529.75 534.33 538.91 543.49 548.06 552.64 557.22 561.8 566.38 570.95 575.53 580.11" y="86.9" font-size="7.1" text-anchor="middle" stroke-width="0.06"><tspan fill="#000" stroke="#000">CAATTTTTACGTGTAACAG</tspan><tspan fill="#17a596" stroke="#17a596">CCA</tspan><tspan fill="#000" stroke="#000">TT</tspan><tspan fill="#1b75bc" stroke="#1b75bc">CCG</tspan><tspan fill="#000" stroke="#000">TCCCAAACGAATCTCAAATGTATTGTGC</tspan></text>
<path d="M443.5,76.7H446.9L445.2,79.9Z" fill="#17a596"/>
<path d="M466,76.7H469.4L467.7,79.9Z" fill="#1b75bc"/>
<text x="424.6" y="94.5" font-size="6.3" text-anchor="middle" fill="#17a596" stroke="#17a596" stroke-width="0" >PAM</text>
<text x="447.3" y="94.5" font-size="6.3" text-anchor="middle" fill="#1b75bc" stroke="#1b75bc" stroke-width="0" >PAM</text>
<rect x="431.5" y="97.5" width="89.9" height="6.6" fill="#17a596"/>
<text x="476.45" y="102.55" font-size="4.95" text-anchor="middle" fill="#fff" stroke="#fff" stroke-width="0" ><tspan font-style="italic">CG10217</tspan> miR-184 MRE sgRNA # 1</text>
<rect x="455.6" y="105.8" width="90.6" height="6.7" fill="#1b75bc"/>
<text x="500.9" y="110.9" font-size="4.95" text-anchor="middle" fill="#fff" stroke="#fff" stroke-width="0" ><tspan font-style="italic">CG10217</tspan> miR-184 MRE sgRNA # 2</text>
<text x="324.5" y="137.3" font-size="7.65" text-anchor="end" fill="#000" stroke="#000" stroke-width="0.1" >pck</text>
<text x="330.8" y="123.4" font-size="6.35" text-anchor="start" fill="#000" stroke="#000" stroke-width="0.1" >chrX:1,366,049</text>
<text x="581.3" y="123.5" font-size="6.55" text-anchor="end" fill="#000" stroke="#000" stroke-width="0.1" >1,366,103</text>
<path d="M332.1,125.1V128.7" stroke="#888" stroke-width="0.5" fill="none"/>
<path d="M331.1,127.8h2l-1,2.4z" fill="#111"/>
<path d="M579.8,124.4V128.7" stroke="#222" stroke-width="0.5" fill="none"/>
<path d="M578.8,127.8h2l-1,2.4z" fill="#111"/>
<text x="332.89 337.47 342.05 346.62 351.2 355.78 360.36 364.94 369.51 374.09 378.67 383.25 387.83 392.41 396.98 401.56 406.14 410.72 415.3 419.87 424.45 429.03 433.61 438.19 442.77 447.34 451.92 456.5 461.08 465.66 470.23 474.81 479.39 483.97 488.55 493.13 497.7 502.28 506.86 511.44 516.02 520.59 525.17 529.75 534.33 538.91 543.49 548.06 552.64 557.22 561.8 566.38 570.95 575.53 580.11" y="137.3" font-size="7.1" text-anchor="middle" stroke-width="0.06"><tspan fill="#000" stroke="#000">TGCCTCGAATCTGCGCAATCGACG</tspan><tspan fill="#1b75bc" stroke="#1b75bc">CCG</tspan><tspan fill="#000" stroke="#000">TCCA</tspan><tspan fill="#17a596" stroke="#17a596">TAG</tspan><tspan fill="#000" stroke="#000">TGCCTTTAACAATCGACCATA</tspan></text>
<path d="M457.7,127.1H461.1L459.4,130.3Z" fill="#17a596"/>
<path d="M466,127.1H469.4L467.7,130.3Z" fill="#1b75bc"/>
<text x="479.5" y="144.9" font-size="6.3" text-anchor="middle" fill="#17a596" stroke="#17a596" stroke-width="0" >PAM</text>
<text x="447.6" y="144.9" font-size="6.3" text-anchor="middle" fill="#1b75bc" stroke="#1b75bc" stroke-width="0" >PAM</text>
<rect x="381" y="148.5" width="91.4" height="6.6" fill="#17a596"/>
<text x="426.7" y="153.55" font-size="4.95" text-anchor="middle" fill="#fff" stroke="#fff" stroke-width="0" ><tspan font-style="italic">pck</tspan> miR-184 MRE sgRNA # 1</text>
<rect x="455.6" y="157.5" width="90.6" height="6.7" fill="#1b75bc"/>
<text x="500.9" y="162.6" font-size="4.95" text-anchor="middle" fill="#fff" stroke="#fff" stroke-width="0" ><tspan font-style="italic">pck</tspan> miR-184 MRE sgRNA # 2</text>
<text x="324.5" y="188" font-size="7.65" text-anchor="end" fill="#000" stroke="#000" stroke-width="0.1" >crok</text>
<text x="330.8" y="174.1" font-size="6.35" text-anchor="start" fill="#000" stroke="#000" stroke-width="0.1" >chr2L:12,173,874</text>
<text x="581.3" y="174.2" font-size="6.55" text-anchor="end" fill="#000" stroke="#000" stroke-width="0.1" >12,173,928</text>
<path d="M332.1,175.8V179.4" stroke="#888" stroke-width="0.5" fill="none"/>
<path d="M331.1,178.5h2l-1,2.4z" fill="#111"/>
<path d="M579.8,175.1V179.4" stroke="#222" stroke-width="0.5" fill="none"/>
<path d="M578.8,178.5h2l-1,2.4z" fill="#111"/>
<text x="332.89 337.47 342.05 346.62 351.2 355.78 360.36 364.94 369.51 374.09 378.67 383.25 387.83 392.41 396.98 401.56 406.14 410.72 415.3 419.87 424.45 429.03 433.61 438.19 442.77 447.34 451.92 456.5 461.08 465.66 470.23 474.81 479.39 483.97 488.55 493.13 497.7 502.28 506.86 511.44 516.02 520.59 525.17 529.75 534.33 538.91 543.49 548.06 552.64 557.22 561.8 566.38 570.95 575.53 580.11" y="188" font-size="7.1" text-anchor="middle" stroke-width="0.06"><tspan fill="#000" stroke="#000">TAACTTAAG</tspan><tspan fill="#17a596" stroke="#17a596">CCT</tspan><tspan fill="#000" stroke="#000">GGAATACTATTT</tspan><tspan fill="#1b75bc" stroke="#1b75bc">CCG</tspan><tspan fill="#000" stroke="#000">TCCAAAAAATATCTTACGCCTATGACAT</tspan></text>
<path d="M396.8,177.8H400.2L398.5,181Z" fill="#17a596"/>
<path d="M466,177.8H469.4L467.7,181Z" fill="#1b75bc"/>
<text x="378.3" y="195.6" font-size="6.3" text-anchor="middle" fill="#17a596" stroke="#17a596" stroke-width="0" >PAM</text>
<text x="446.4" y="195.6" font-size="6.3" text-anchor="middle" fill="#1b75bc" stroke="#1b75bc" stroke-width="0" >PAM</text>
<rect x="385.6" y="199.2" width="90.4" height="7" fill="#17a596"/>
<text x="430.8" y="204.45" font-size="4.95" text-anchor="middle" fill="#fff" stroke="#fff" stroke-width="0" ><tspan font-style="italic">crok</tspan> miR-184 MRE sgRNA # 1</text>
<rect x="455.9" y="208.6" width="90.9" height="7.3" fill="#1b75bc"/>
<text x="501.35" y="214" font-size="4.95" text-anchor="middle" fill="#fff" stroke="#fff" stroke-width="0" ><tspan font-style="italic">crok</tspan> miR-184 MRE sgRNA # 2</text>
<rect x="440.6" y="27.2" width="26.9" height="191.7" rx="2" fill="none" stroke="#333" stroke-width="0.6" stroke-dasharray="0.9,0.8"/>
</g>
<g id="panel-d">
<text x="291.5" y="263" font-size="12" text-anchor="start" fill="#000" stroke="#000" stroke-width="0" font-weight="bold">d</text>
<rect x="442.2" y="272.8" width="27.3" height="139.4" fill="#e3e3e3"/>
<text x="456.2" y="263.5" font-size="7.6" text-anchor="middle" fill="#000" stroke="#000" stroke-width="0.1" >miR-184</text>
<text x="456.2" y="270.8" font-size="7.6" text-anchor="middle" fill="#000" stroke="#000" stroke-width="0.1" >seed</text>
<text x="334.89 339.46 344.04 348.61 353.19 357.76 362.33 366.91 371.48 376.06 380.63 385.21 389.78 394.36 398.93 403.5 408.08 412.65 417.23 421.8 426.38 430.95 435.53 440.1 444.67 449.25 453.82 458.4 462.97 467.55 472.12 476.7 481.27 485.84 490.42 494.99 499.57 504.14 508.72 513.29 517.87 522.44 527.01 531.59 536.16 540.74 545.31" y="279" font-size="6.4" text-anchor="middle" stroke-width="0.08"><tspan fill="#000" stroke="#000">NNNNN</tspan><tspan fill="#17a596" stroke="#17a596">CCC</tspan><tspan fill="#000" stroke="#000">NNNNNNNNNNNNNNNN</tspan><tspan fill="#1b75bc" stroke="#1b75bc">CCG</tspan><tspan fill="#000" stroke="#000">TCC</tspan><tspan fill="#000" stroke="#000">NNNNNNNNNNNNNNNNN</tspan></text>
<text x="362.33" y="286.6" font-size="6.3" text-anchor="middle" fill="#17a596" stroke="#17a596" stroke-width="0.1" font-weight="bold">PAM</text>
<text x="449.25" y="286.6" font-size="6.3" text-anchor="middle" fill="#1b75bc" stroke="#1b75bc" stroke-width="0.1" font-weight="bold">PAM</text>
<rect x="370.4" y="288" width="90.6" height="6.9" fill="#17a596"/>
<text x="415.7" y="293.2" font-size="4.95" text-anchor="middle" fill="#fff" stroke="#fff" stroke-width="0" >miR-184 MRE sgRNA # 1</text>
<rect x="459.3" y="296.6" width="90.7" height="7.8" fill="#1b75bc"/>
<text x="504.6" y="302.2" font-size="4.95" text-anchor="middle" fill="#fff" stroke="#fff" stroke-width="0" >miR-184 MRE sgRNA # 2</text>
<path d="M368.5,328.7C373,328.7 375,323 377,314C379,306 380.5,304.2 383.6,303.9C395,304.5 410,308.5 425,310.2C435,311.2 440,311.5 447,312C455,312.6 462,313 467,313.6C472,314.5 476,319 481,323C485,326 489,327.6 497,328.3L507,328.7Z" fill="#f6a94b"/>
<path d="M369.5,328.7C374,328.7 376,326 378,320C379.5,315 381,313 384,312.6C395,313.2 410,316.5 425,318.6C435,319.8 441,320.3 448,321C456,321.8 462,322.2 467,322.9C472,323.6 476,325.2 481,326.6C486,327.8 490,328.3 497,328.7Z" fill="#1b7b40"/>
<path d="M368,328.7H508" stroke="#222" stroke-width="0.5"/>
<text x="368.8" y="307.6" font-size="6.7" text-anchor="end" fill="#000" stroke="#000" stroke-width="0.1" >cDNA</text>
<text x="368.8" y="318.7" font-size="6.7" text-anchor="end" fill="#000" stroke="#000" stroke-width="0.1" >gDNA</text>
<path d="M370.3,305.2L379.4,308.8M370.3,315.6L377,317.2" stroke="#444" stroke-width="0.4" fill="none"/>
<text x="344.22 348.45 352.68 356.91 361.14 365.37 369.61 373.84 378.07 382.3 386.53 390.76 395 399.23 403.46 407.69 411.92 416.15 420.39 424.62 428.85 433.08 437.31 441.55 445.78 450.01 454.24 458.47 462.7 466.94 471.17 475.4 479.63 483.86 488.09 492.33 496.56 500.79 505.02 509.25 513.48" y="341.6" font-size="5.9" text-anchor="middle" fill="#3b53a4" stroke="#3b53a4" stroke-width="0.12">NNNNNNNNNNNNNNNNNNNNNNNNNNNNNNNNNNNNNNNNN</text>
<text x="344.22 348.45 352.68 356.91 361.14 365.37 369.61 373.84 378.07 382.3 386.53 390.76 471.17 475.4 479.63 483.86 488.09 492.33 496.56 500.79 505.02 509.25 513.48" y="348.47" font-size="5.9" text-anchor="middle" fill="#3b53a4" stroke="#3b53a4" stroke-width="0.12">NNNNNNNNNNNNNNNNNNNNNNN</text>
<text x="395 399.23 403.46 407.69 411.92 416.15 420.39 424.62 428.85 433.08 437.31 441.55 445.78 450.01 454.24 458.47 462.7 466.94" y="347.62" font-size="4.5" text-anchor="middle" fill="#3b53a4" stroke="#3b53a4" stroke-width="0.2">––––––––––––––––––</text>
<text x="344.22 348.45 352.68 356.91 361.14 365.37 369.61 373.84 378.07 382.3 386.53 390.76 471.17 475.4 479.63 483.86 488.09 492.33 496.56 500.79 505.02 509.25 513.48" y="355.33" font-size="5.9" text-anchor="middle" fill="#3b53a4" stroke="#3b53a4" stroke-width="0.12">NNNNNNNNNNNNNNNNNNNNNNN</text>
<text x="395 399.23 403.46 407.69 411.92 416.15 420.39 424.62 428.85 433.08 437.31 441.55 445.78 450.01 454.24 458.47 462.7 466.94" y="354.48" font-size="4.5" text-anchor="middle" fill="#3b53a4" stroke="#3b53a4" stroke-width="0.2">––––––––––––––––––</text>
<text x="344.22 348.45 352.68 356.91 361.14 365.37 369.61 373.84 378.07 382.3 386.53 390.76 395 399.23 403.46 407.69 411.92 416.15 420.39 424.62 471.17 475.4 479.63 483.86 488.09 492.33 496.56 500.79 505.02 509.25 513.48" y="362.2" font-size="5.9" text-anchor="middle" fill="#3b53a4" stroke="#3b53a4" stroke-width="0.12">NNNNNNNNNNNNNNNNNNNNNNNNNNNNNNN</text>
<text x="428.85 433.08 437.31 441.55 445.78 450.01 454.24 458.47 462.7 466.94" y="361.35" font-size="4.5" text-anchor="middle" fill="#3b53a4" stroke="#3b53a4" stroke-width="0.2">––––––––––</text>
<text x="344.22 348.45 352.68 356.91 361.14 365.37 369.61 373.84 378.07 382.3 386.53 390.76 395 399.23 403.46 407.69 411.92 416.15 420.39 424.62 471.17 475.4 479.63 483.86 488.09 492.33 496.56 500.79 505.02 509.25 513.48" y="369.06" font-size="5.9" text-anchor="middle" fill="#3b53a4" stroke="#3b53a4" stroke-width="0.12">NNNNNNNNNNNNNNNNNNNNNNNNNNNNNNN</text>
<text x="428.85 433.08 437.31 441.55 445.78 450.01 454.24 458.47 462.7 466.94" y="368.21" font-size="4.5" text-anchor="middle" fill="#3b53a4" stroke="#3b53a4" stroke-width="0.2">––––––––––</text>
<text x="344.22 348.45 352.68 356.91 361.14 365.37 369.61 373.84 378.07 382.3 386.53 390.76 471.17 475.4 479.63 483.86 488.09 492.33 496.56 500.79 505.02 509.25 513.48" y="375.93" font-size="5.9" text-anchor="middle" fill="#3b53a4" stroke="#3b53a4" stroke-width="0.12">NNNNNNNNNNNNNNNNNNNNNNN</text>
<text x="395 399.23 403.46 407.69 411.92 416.15 420.39 424.62 428.85 433.08 437.31 441.55 445.78 450.01 454.24 458.47 462.7 466.94" y="375.07" font-size="4.5" text-anchor="middle" fill="#3b53a4" stroke="#3b53a4" stroke-width="0.2">––––––––––––––––––</text>
<text x="344.22 348.45 352.68 356.91 361.14 365.37 369.61 373.84 378.07 382.3 386.53 390.76 395 399.23 403.46 407.69 411.92 416.15 420.39 424.62 471.17 475.4 479.63 483.86 488.09 492.33 496.56 500.79 505.02 509.25 513.48" y="382.79" font-size="5.9" text-anchor="middle" fill="#3b53a4" stroke="#3b53a4" stroke-width="0.12">NNNNNNNNNNNNNNNNNNNNNNNNNNNNNNN</text>
<text x="428.85 433.08 437.31 441.55 445.78 450.01 454.24 458.47 462.7 466.94" y="381.94" font-size="4.5" text-anchor="middle" fill="#3b53a4" stroke="#3b53a4" stroke-width="0.2">––––––––––</text>
<text x="344.22 348.45 352.68 356.91 361.14 365.37 369.61 373.84 378.07 382.3 428.85 433.08 437.31 441.55 445.78 450.01 454.24 458.47 462.7 466.94 471.17 475.4 479.63 483.86 488.09 492.33 496.56 500.79 505.02 509.25 513.48" y="389.66" font-size="5.9" text-anchor="middle" fill="#ea4a4f" stroke="#ea4a4f" stroke-width="0.12">NNNNNNNNNNNNNNNNNNNNNNNNNNNNNNN</text>
<text x="386.53 390.76 395 399.23 403.46 407.69 411.92 416.15 420.39 424.62" y="388.81" font-size="4.5" text-anchor="middle" fill="#ea4a4f" stroke="#ea4a4f" stroke-width="0.2">––––––––––</text>
<text x="344.22 348.45 352.68 356.91 361.14 365.37 369.61 373.84 378.07 382.3 386.53 390.76 395 399.23 403.46 407.69 411.92 416.15 420.39 424.62 428.85 433.08 437.31 441.55 445.78 450.01 454.24 458.47 462.7 466.94 483.86 488.09 492.33 496.56 500.79 505.02 509.25 513.48" y="396.52" font-size="5.9" text-anchor="middle" fill="#ea4a4f" stroke="#ea4a4f" stroke-width="0.12">NNNNNNNNNNNNNNNNNNNNNNNNNNNNNNNNNNNNNN</text>
<text x="471.17 475.4 479.63" y="395.67" font-size="4.5" text-anchor="middle" fill="#ea4a4f" stroke="#ea4a4f" stroke-width="0.2">–––</text>
<text x="344.22 348.45 352.68 356.91 361.14 365.37 369.61 373.84 378.07 382.3 386.53 390.76 395 399.23 403.46 407.69 411.92 416.15 420.39 424.62 428.85 433.08 437.31 441.55 445.78 450.01 454.24 458.47 462.7 466.94 492.33 496.56 500.79 505.02 509.25 513.48" y="403.39" font-size="5.9" text-anchor="middle" fill="#ea4a4f" stroke="#ea4a4f" stroke-width="0.12">NNNNNNNNNNNNNNNNNNNNNNNNNNNNNNNNNNNN</text>
<text x="471.17 475.4 479.63 483.86 488.09" y="402.54" font-size="4.5" text-anchor="middle" fill="#ea4a4f" stroke="#ea4a4f" stroke-width="0.2">–––––</text>
<text x="344.22 348.45 352.68 356.91 361.14 365.37 369.61 373.84 378.07 382.3 386.53 390.76 395 399.23 403.46 407.69 411.92 416.15 420.39 424.62 428.85 433.08 437.31 441.55 445.78 450.01 454.24 458.47 462.7 466.94 505.02 509.25 513.48" y="410.25" font-size="5.9" text-anchor="middle" fill="#ea4a4f" stroke="#ea4a4f" stroke-width="0.12">NNNNNNNNNNNNNNNNNNNNNNNNNNNNNNNNN</text>
<text x="471.17 475.4 479.63 483.86 488.09 492.33 496.56 500.79" y="409.4" font-size="4.5" text-anchor="middle" fill="#ea4a4f" stroke="#ea4a4f" stroke-width="0.2">––––––––</text>
<defs><linearGradient id="gb" x1="0" x2="1"><stop offset="0" stop-color="#3b53a4" stop-opacity="0.2"/><stop offset="1" stop-color="#3b53a4"/></linearGradient><linearGradient id="gr" x1="0" x2="1"><stop offset="0" stop-color="#ea4a4f" stop-opacity="0.2"/><stop offset="1" stop-color="#ea4a4f"/></linearGradient></defs>
<path d="M515.7,336C520.1,341 518.1,355.6 522.6,359.6C518.1,363.6 520.1,378.6 515.7,383.6C516.6,375.6 516.2,365.6 517.3000000000001,359.6C516.2,353.6 516.6,344 515.7,336Z" fill="url(#gb)"/>
<path d="M515.7,384.8C520.1,389.8 518.1,394 522.6,398C518.1,402 520.1,405.8 515.7,410.8C516.6,402.8 516.2,404 517.3000000000001,398C516.2,392 516.6,392.8 515.7,384.8Z" fill="url(#gr)"/>
<text x="527.3" y="361.9" font-size="7.75" text-anchor="start" fill="#000" stroke="#000" stroke-width="0.1" >seed-deleting UDPs</text>
<text x="527.3" y="399.9" font-size="7.75" text-anchor="start" fill="#000" stroke="#000" stroke-width="0.1" >seed-intact UDPs</text>
</g>
<g id="panel-e">
<text x="333.2" y="450.8" font-size="12" text-anchor="start" fill="#000" stroke="#000" stroke-width="0" font-weight="bold">e</text>
<path d="M380.7,461.2V631.0H531.5M380.7,631h-3.2M380.7,602.7h-3.2M380.7,574.4h-3.2M380.7,546.1h-3.2M380.7,517.8h-3.2M380.7,489.5h-3.2M380.7,461.2h-3.2M417.3,631.0v2.6M453.6,631.0v2.6M489.4,631.0v2.6M526.3,631.0v2.6" fill="none" stroke="#555" stroke-width="0.65"/>
<text x="374.8" y="633.95" font-size="8.7" text-anchor="end" fill="#000" stroke="#000" stroke-width="0.1" >0.0</text>
<text x="374.8" y="605.65" font-size="8.7" text-anchor="end" fill="#000" stroke="#000" stroke-width="0.1" >0.2</text>
<text x="374.8" y="577.35" font-size="8.7" text-anchor="end" fill="#000" stroke="#000" stroke-width="0.1" >0.4</text>
<text x="374.8" y="549.05" font-size="8.7" text-anchor="end" fill="#000" stroke="#000" stroke-width="0.1" >0.6</text>
<text x="374.8" y="520.75" font-size="8.7" text-anchor="end" fill="#000" stroke="#000" stroke-width="0.1" >0.8</text>
<text x="374.8" y="492.45" font-size="8.7" text-anchor="end" fill="#000" stroke="#000" stroke-width="0.1" >1.0</text>
<text x="374.8" y="464.15" font-size="8.7" text-anchor="end" fill="#000" stroke="#000" stroke-width="0.1" >1.2</text>
<text transform="translate(351,545.2) rotate(-90)" font-size="8.4" text-anchor="middle" fill="#000" stroke="#000" stroke-width="0.1" textLength="163" lengthAdjust="spacing">UNS fold change / seed deleted mean UNS</text>
<path d="M390.8,483.13V495.87M388.40000000000003,483.13h4.8M388.40000000000003,495.87h4.8" stroke="#85838c" stroke-width="0.65" fill="none"/>
<path d="M408.8,547.23V557.84M406.40000000000003,547.23h4.8M406.40000000000003,557.84h4.8" stroke="#aaa" stroke-width="0.55" fill="none"/>
<path d="M390.8,486.3V478.4H408.8V549.69" stroke="#1a1a1a" stroke-width="0.65" stroke-dasharray="0.8,0.7" fill="none"/>
<text x="399.3" y="477.2" font-size="9.1" text-anchor="middle" fill="#000" stroke="#000" stroke-width="0.2" >****</text>
<circle cx="390.8" cy="489.5" r="2.9" fill="#3a53a4" stroke="#2a3c85" stroke-width="0.4"/>
<circle cx="408.8" cy="552.89" r="2.9" fill="#e0475a" stroke="#a8323f" stroke-width="0.4"/>
<path d="M427.0,484.55V494.45M424.6,484.55h4.8M424.6,494.45h4.8" stroke="#85838c" stroke-width="0.65" fill="none"/>
<path d="M445.1,525.3V559.4M442.70000000000005,525.3h4.8M442.70000000000005,559.4h4.8" stroke="#aaa" stroke-width="0.55" fill="none"/>
<path d="M427.0,486.3V480.9H445.1V539.5" stroke="#1a1a1a" stroke-width="0.65" stroke-dasharray="0.8,0.7" fill="none"/>
<text x="435.55" y="479.7" font-size="9.1" text-anchor="middle" fill="#000" stroke="#000" stroke-width="0.2" >*</text>
<circle cx="427.0" cy="489.5" r="2.9" fill="#3a53a4" stroke="#2a3c85" stroke-width="0.4"/>
<circle cx="445.1" cy="542.7" r="2.9" fill="#e0475a" stroke="#a8323f" stroke-width="0.4"/>
<path d="M462.9,484.55V494.45M460.5,484.55h4.8M460.5,494.45h4.8" stroke="#85838c" stroke-width="0.65" fill="none"/>
<path d="M481,580.06V589.54M478.6,580.06h4.8M478.6,589.54h4.8" stroke="#aaa" stroke-width="0.55" fill="none"/>
<path d="M462.9,486.3V480.9H481V581.67" stroke="#1a1a1a" stroke-width="0.65" stroke-dasharray="0.8,0.7" fill="none"/>
<text x="471.45" y="479.7" font-size="9.1" text-anchor="middle" fill="#000" stroke="#000" stroke-width="0.2" >****</text>
<circle cx="462.9" cy="489.5" r="2.9" fill="#3a53a4" stroke="#2a3c85" stroke-width="0.4"/>
<circle cx="481" cy="584.87" r="2.9" fill="#e0475a" stroke="#a8323f" stroke-width="0.4"/>
<path d="M499.5,483.84V495.16M497.1,483.84h4.8M497.1,495.16h4.8" stroke="#85838c" stroke-width="0.65" fill="none"/>
<path d="M499.5,486.3V480.9H517.3V593.42" stroke="#1a1a1a" stroke-width="0.65" stroke-dasharray="0.8,0.7" fill="none"/>
<text x="507.9" y="479.7" font-size="9.1" text-anchor="middle" fill="#000" stroke="#000" stroke-width="0.2" >****</text>
<circle cx="499.5" cy="489.5" r="2.9" fill="#3a53a4" stroke="#2a3c85" stroke-width="0.4"/>
<circle cx="517.3" cy="596.62" r="2.9" fill="#e0475a" stroke="#a8323f" stroke-width="0.4"/>
<text transform="translate(403.6,639) rotate(-45)" font-size="8.6" text-anchor="end" fill="#000" stroke="#000" stroke-width="0.1">CG12880</text>
<text transform="translate(440.5,639) rotate(-45)" font-size="8.6" text-anchor="end" fill="#000" stroke="#000" stroke-width="0.1">CG10217</text>
<text transform="translate(479.2,639) rotate(-45)" font-size="8.6" text-anchor="end" fill="#000" stroke="#000" stroke-width="0.1">pck</text>
<text transform="translate(518.4,639) rotate(-45)" font-size="8.6" text-anchor="end" fill="#000" stroke="#000" stroke-width="0.1">crok</text>
<rect x="534" y="542.5" width="85" height="24.5" fill="none" stroke="#f3f3f3" stroke-width="0.5"/>
<circle cx="540.5" cy="548.7" r="3.4" fill="#3a53a4"/>
<circle cx="540.5" cy="560.4" r="3.4" fill="#e0475a"/>
<text x="546.8" y="551.4" font-size="7.75" text-anchor="start" fill="#000" stroke="#000" stroke-width="0.1" >seed-deleting UDPs</text>
<text x="546.8" y="562.9" font-size="7.75" text-anchor="start" fill="#000" stroke="#000" stroke-width="0.1" >seed-intact UDPs</text>
</g>
</svg>
</body></html>
